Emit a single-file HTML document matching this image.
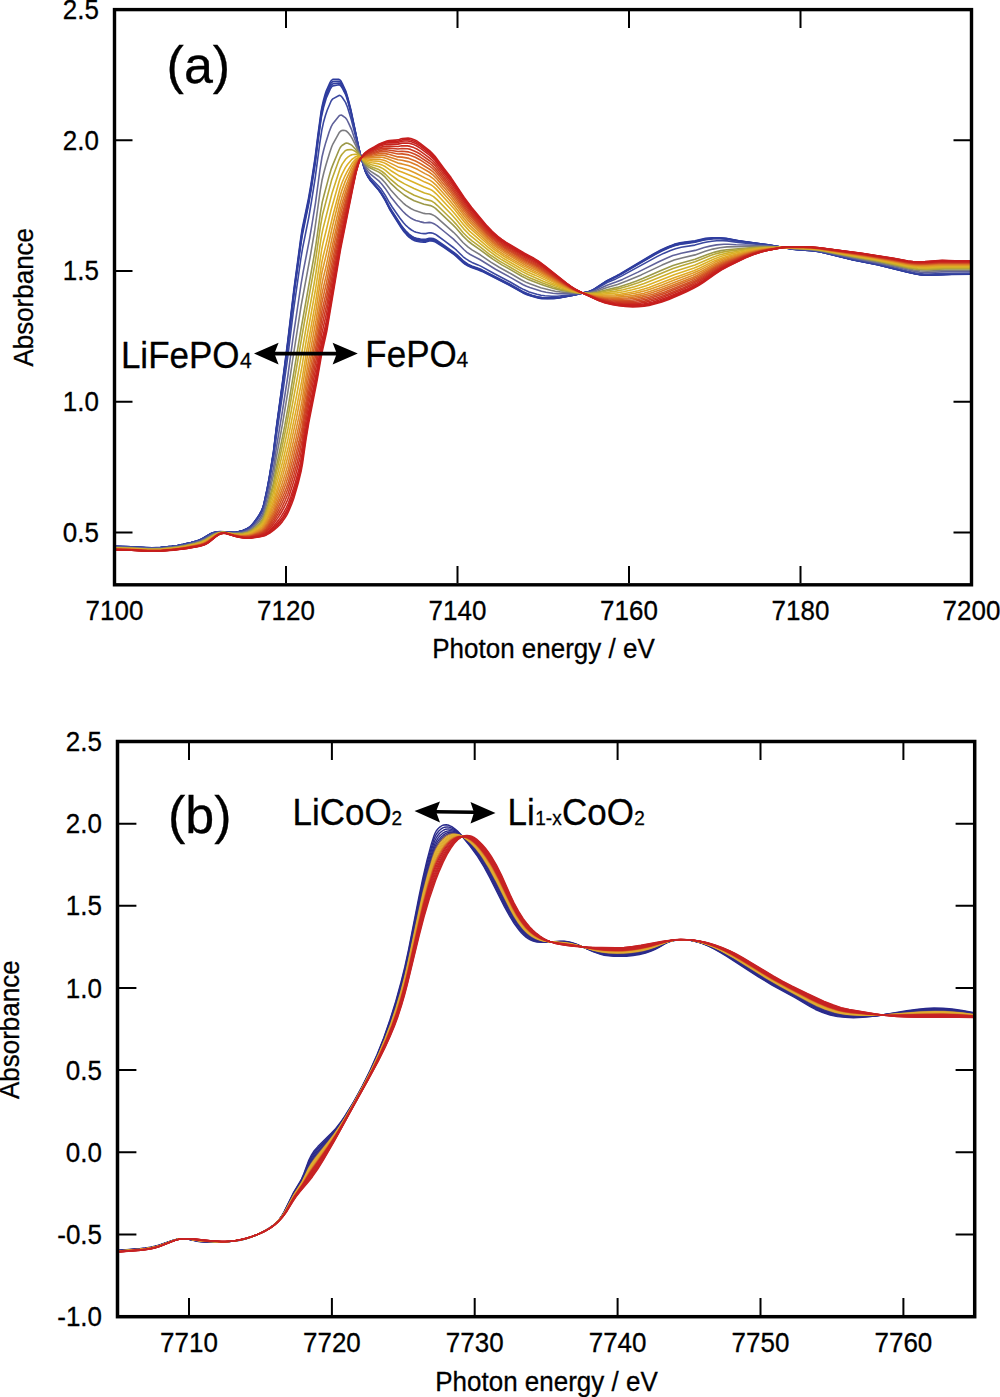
<!DOCTYPE html>
<html><head><meta charset="utf-8">
<style>
html,body{margin:0;padding:0;background:#fff;}
body{width:1000px;height:1397px;overflow:hidden;}
svg{display:block;}
text{font-family:"Liberation Sans",sans-serif;fill:#000;}
</style></head><body>
<svg width="1000" height="1397" viewBox="0 0 1000 1397">
<rect x="0" y="0" width="1000" height="1397" fill="#fff"/>
<g stroke="#000" fill="none">
<path stroke-width="2" d="M286 583V566 M457.5 583V566 M629 583V566 M800.5 583V566 M286 11V28 M457.5 11V28 M629 11V28 M800.5 11V28 M116 140.2H132.5 M116 271H132.5 M116 401.8H132.5 M116 532.5H132.5 M970 140.2H953.5 M970 271H953.5 M970 401.8H953.5 M970 532.5H953.5"/>
<path stroke-width="2" d="M189 1315V1298 M331.9 1315V1298 M474.7 1315V1298 M617.6 1315V1298 M760.5 1315V1298 M903.4 1315V1298 M189 743V760 M331.9 743V760 M474.7 743V760 M617.6 743V760 M760.5 743V760 M903.4 743V760 M119 823.7H136.4 M119 905.8H136.4 M119 988H136.4 M119 1070.1H136.4 M119 1152.3H136.4 M119 1234.4H136.4 M973 823.7H955.6 M973 905.8H955.6 M973 988H955.6 M973 1070.1H955.6 M973 1152.3H955.6 M973 1234.4H955.6"/>
</g>
<g fill="none" stroke-linejoin="round" stroke-linecap="round">
<path d="M114.5 546.3 131.0 546.8 146.0 547.6 152.0 547.8 160.5 547.4 171.8 546.3 177.5 545.5 183.2 544.4 191.0 542.5 196.8 540.9 199.8 539.8 202.2 538.7 210.5 533.7 212.8 532.8 215.0 532.2 217.5 531.7 220.2 531.6 233.2 532.4 236.0 532.1 238.8 531.6 242.8 530.4 246.0 529.1 248.8 527.6 251.0 525.8 253.5 523.1 257.0 518.2 259.5 514.4 261.5 510.6 262.8 507.6 263.8 504.3 267.2 488.5 269.2 477.7 273.5 451.4 276.5 426.4 282.5 382.0 288.0 339.2 293.8 290.2 300.8 237.9 302.2 228.7 308.5 198.3 311.0 184.2 315.2 156.8 318.0 134.4 321.2 110.9 322.0 106.8 323.5 100.2 325.0 94.8 326.2 91.1 330.2 82.2 331.5 80.3 332.8 79.4 339.0 79.4 340.0 79.9 341.0 81.1 342.2 83.3 346.0 91.7 348.0 98.5 350.8 109.5 357.8 143.1 360.0 153.0 363.8 166.7 365.2 171.2 366.5 174.1 368.2 177.3 370.5 180.7 378.5 190.1 381.2 193.8 385.0 200.1 389.5 209.0 391.8 212.9 401.2 227.8 404.0 231.7 406.5 234.6 409.0 237.1 411.8 239.2 414.0 240.4 416.5 241.3 420.5 242.0 424.0 242.3 425.8 242.1 429.2 241.0 431.0 240.9 433.2 241.2 435.5 242.0 444.2 247.6 454.2 254.7 456.8 256.8 463.0 262.6 465.2 264.3 467.8 265.8 471.5 267.6 478.5 269.9 482.0 271.4 509.0 285.0 523.0 292.9 527.0 294.7 531.0 296.1 537.8 297.9 541.8 298.6 547.2 298.8 553.8 298.6 560.0 297.8 574.8 295.0 588.8 291.4 591.8 290.3 594.5 288.9 606.5 280.9 615.8 276.2 620.0 273.9 654.0 253.6 660.8 250.0 668.0 246.7 674.0 244.4 680.0 242.9 685.0 242.0 695.0 240.9 705.5 238.4 712.5 237.7 719.2 237.7 726.0 238.2 739.0 240.7 768.2 244.9 792.2 249.0 798.2 249.7 811.8 250.7 818.2 251.5 824.0 252.8 853.0 259.9 877.8 264.8 906.5 272.0 914.8 273.8 920.0 274.8 924.2 275.2 929.0 275.3 952.0 274.4 971.5 274.3" stroke="#2e3c9e" stroke-width="1.6"/>
<path d="M114.5 546.4 131.0 546.8 146.0 547.6 152.0 547.8 160.5 547.5 171.8 546.4 177.5 545.5 183.2 544.4 191.0 542.6 196.8 541.0 199.8 539.9 202.2 538.7 210.8 533.7 213.0 532.8 215.2 532.2 217.8 531.8 220.5 531.7 233.2 532.4 236.0 532.2 238.8 531.6 242.8 530.5 246.0 529.2 248.8 527.7 250.8 526.2 253.2 523.5 256.5 519.1 259.5 514.6 261.5 510.8 262.8 507.9 263.8 504.6 267.2 488.9 269.2 478.3 273.5 452.2 276.5 427.4 282.5 383.4 288.0 340.9 293.8 292.3 300.8 240.2 302.5 229.7 308.5 200.6 311.0 186.4 315.2 159.1 318.0 136.8 321.2 113.3 322.0 109.2 323.5 102.7 324.8 98.1 326.2 93.5 330.2 84.5 331.5 82.6 332.8 81.6 339.0 81.2 340.0 81.7 341.0 82.8 342.2 84.8 346.0 93.0 348.0 99.6 350.8 110.4 357.8 143.3 360.0 153.1 363.8 166.6 365.2 171.0 366.5 173.9 368.2 177.1 370.5 180.4 378.5 189.6 381.2 193.3 385.0 199.5 389.5 208.3 391.8 212.2 401.2 226.9 404.0 230.7 406.5 233.6 409.0 236.1 411.8 238.2 414.0 239.4 416.5 240.3 420.5 241.0 424.0 241.3 425.8 241.1 429.2 240.1 431.0 240.0 433.2 240.3 435.5 241.2 444.2 246.9 454.2 254.0 456.8 256.1 463.0 261.9 465.5 263.8 468.0 265.4 471.5 267.0 478.2 269.3 481.8 270.8 509.2 284.7 523.0 292.5 527.0 294.3 531.2 295.8 537.8 297.5 541.8 298.2 547.5 298.5 554.0 298.3 560.2 297.6 574.8 294.9 588.8 291.5 591.8 290.4 594.5 289.0 606.5 281.1 615.8 276.5 620.2 274.1 654.5 253.8 661.0 250.4 668.2 247.1 674.0 244.9 680.0 243.4 685.0 242.6 695.0 241.4 705.8 238.8 713.0 238.1 719.8 238.1 726.2 238.5 738.5 240.8 768.0 244.9 792.5 249.1 798.5 249.7 811.8 250.6 818.2 251.5 824.0 252.7 852.8 259.7 877.5 264.7 906.8 271.9 914.8 273.7 920.0 274.6 924.2 275.1 928.8 275.2 951.8 274.2 971.5 274.2" stroke="#2f3d9e" stroke-width="1.6"/>
<path d="M114.5 546.4 131.0 546.8 146.0 547.7 152.0 547.8 160.5 547.5 171.8 546.4 177.5 545.6 183.5 544.4 191.2 542.6 197.0 540.9 200.0 539.8 202.5 538.7 210.8 533.7 213.0 532.8 215.2 532.2 217.8 531.8 220.5 531.7 233.5 532.4 236.2 532.2 239.0 531.6 243.0 530.5 246.2 529.2 249.0 527.7 251.0 526.1 253.5 523.4 257.0 518.6 259.5 514.8 261.5 511.1 262.8 508.2 263.8 504.9 267.2 489.4 269.2 478.8 273.5 452.9 276.5 428.4 282.5 384.8 288.0 342.6 294.0 292.5 300.8 242.6 302.2 233.4 308.5 202.8 311.2 187.2 315.2 161.5 318.0 139.2 321.2 115.8 322.0 111.7 323.5 105.1 324.8 100.5 326.2 95.9 330.2 86.8 331.5 84.8 332.8 83.8 339.0 83.0 340.0 83.4 341.0 84.4 342.2 86.4 346.0 94.3 348.0 100.8 351.0 112.3 357.8 143.5 360.0 153.2 363.8 166.5 365.2 170.8 366.5 173.6 368.2 176.8 370.5 180.1 378.5 189.2 381.2 192.8 385.0 198.9 389.5 207.6 391.8 211.4 401.2 226.0 404.0 229.8 406.5 232.7 409.0 235.1 411.8 237.1 414.0 238.4 416.5 239.3 420.5 240.1 424.0 240.4 425.8 240.2 429.2 239.2 431.0 239.1 433.2 239.5 435.5 240.3 444.2 246.1 454.2 253.3 456.8 255.4 463.0 261.2 465.5 263.1 468.0 264.7 471.5 266.4 478.2 268.8 481.8 270.3 509.5 284.4 523.0 292.1 527.0 293.9 531.5 295.4 538.0 297.2 542.0 297.9 548.0 298.2 554.0 298.1 560.2 297.4 574.8 294.9 589.0 291.5 591.8 290.4 594.5 289.1 606.5 281.3 615.8 276.8 620.2 274.4 654.8 254.2 661.2 250.8 668.5 247.5 674.2 245.4 680.2 243.9 685.0 243.1 695.0 241.8 705.8 239.2 713.2 238.4 720.0 238.4 726.2 238.8 738.2 241.0 767.8 244.9 792.8 249.1 798.5 249.7 811.8 250.6 818.2 251.5 824.0 252.7 852.8 259.7 877.5 264.6 906.8 271.8 914.8 273.6 920.0 274.5 924.2 274.9 928.8 275.0 951.8 274.1 971.5 274.0" stroke="#2f3d9f" stroke-width="1.6"/>
<path d="M114.5 546.4 131.0 546.9 146.0 547.7 152.0 547.9 160.5 547.5 171.8 546.4 177.5 545.6 183.5 544.5 191.2 542.6 197.0 541.0 200.0 539.9 202.5 538.8 210.8 533.8 213.0 532.9 215.5 532.2 218.0 531.8 220.8 531.7 233.5 532.5 236.2 532.2 239.2 531.6 243.0 530.6 246.2 529.3 249.0 527.8 251.0 526.2 253.8 523.2 257.5 518.1 259.8 514.6 261.8 510.8 263.0 507.7 264.0 504.3 267.2 489.9 269.2 479.4 273.5 453.7 276.5 429.4 282.5 386.2 288.0 344.4 294.0 294.6 300.8 244.9 302.2 235.8 308.5 205.1 311.2 189.4 315.2 163.8 318.0 141.6 321.2 118.2 323.5 107.6 326.2 98.3 330.2 89.1 331.5 87.0 332.8 85.9 339.0 84.8 340.0 85.1 341.0 86.1 342.2 88.0 345.0 93.3 346.0 95.6 348.0 101.9 351.0 113.2 358.0 144.9 360.2 154.2 363.8 166.4 365.2 170.6 366.5 173.4 368.2 176.5 370.5 179.7 378.5 188.7 381.2 192.3 385.2 198.7 389.2 206.5 391.8 210.7 401.2 225.1 404.0 228.9 406.5 231.7 409.0 234.1 411.8 236.1 414.0 237.4 416.5 238.3 420.5 239.1 424.0 239.4 425.8 239.2 429.2 238.3 431.0 238.2 433.2 238.6 435.5 239.5 444.2 245.3 454.2 252.6 456.8 254.7 463.0 260.6 465.5 262.5 468.0 264.1 471.8 265.9 478.2 268.2 481.5 269.6 509.5 284.0 523.0 291.7 527.2 293.6 532.0 295.2 538.2 296.9 542.0 297.6 548.2 297.9 554.2 297.8 560.2 297.2 574.8 294.8 589.0 291.5 591.5 290.6 594.0 289.4 597.5 287.4 606.8 281.4 615.8 277.1 621.0 274.3 655.0 254.6 661.8 251.1 669.0 247.8 674.5 245.8 680.5 244.3 685.0 243.6 695.0 242.3 703.0 240.2 706.0 239.6 713.8 238.8 720.5 238.7 726.5 239.1 739.2 241.3 770.0 245.3 793.0 249.1 798.5 249.6 811.5 250.5 818.0 251.4 824.0 252.6 852.8 259.6 877.5 264.5 906.8 271.7 914.8 273.5 920.0 274.4 924.2 274.8 928.8 274.9 951.8 274.0 971.5 273.9" stroke="#303e9f" stroke-width="1.6"/>
<path d="M114.5 546.6 131.0 547.1 146.0 547.9 152.0 548.1 160.5 547.7 172.2 546.6 178.0 545.8 184.0 544.6 191.8 542.8 197.2 541.3 200.2 540.2 202.8 539.0 211.2 534.0 213.8 533.0 216.2 532.3 218.8 531.9 221.5 531.8 234.0 532.7 236.8 532.4 240.0 531.8 243.8 530.8 246.8 529.6 249.2 528.3 251.2 526.7 254.0 523.8 257.8 518.9 260.0 515.6 261.8 512.4 263.0 509.5 264.0 506.2 267.5 491.5 269.2 482.7 273.8 456.9 276.5 435.5 282.5 394.6 287.8 356.6 293.2 312.7 300.8 259.0 302.5 248.6 308.8 217.3 311.2 203.1 315.2 177.8 319.8 143.1 321.8 130.1 323.5 122.3 325.5 115.2 327.2 110.2 330.8 101.7 331.8 100.0 332.8 98.9 339.0 95.5 339.8 95.4 340.5 95.7 341.5 96.5 342.5 97.7 345.5 102.4 347.5 107.3 351.2 119.3 360.0 153.7 363.5 164.9 366.0 171.1 368.0 174.5 370.5 177.8 378.5 186.0 381.5 189.6 385.2 195.2 389.5 202.8 392.0 206.7 400.0 218.2 403.5 222.7 406.2 225.7 408.8 228.0 411.5 230.0 414.0 231.4 416.2 232.2 420.5 233.2 424.0 233.6 425.8 233.6 429.2 232.8 431.0 232.9 433.0 233.3 435.2 234.2 437.2 235.5 444.2 240.6 454.0 248.0 456.5 250.2 463.2 256.8 466.0 258.9 468.8 260.7 472.0 262.4 478.0 264.9 481.2 266.4 494.5 273.8 510.2 282.0 519.2 287.2 523.8 289.6 529.2 292.0 536.8 294.3 541.0 295.3 544.8 295.8 551.8 296.3 557.2 296.2 575.5 294.4 585.8 292.5 590.0 291.5 592.8 290.5 595.5 289.2 607.2 282.5 615.8 278.9 621.8 275.9 657.0 256.6 663.5 253.4 670.5 250.4 675.5 248.7 681.2 247.3 694.8 245.1 703.2 242.8 707.0 242.0 712.0 241.2 716.8 240.8 722.8 240.7 727.2 240.9 738.0 242.4 767.2 245.3 779.5 246.9 794.2 249.1 811.0 250.3 817.5 251.1 823.8 252.3 854.2 259.4 879.2 264.3 909.0 271.5 915.2 272.8 920.0 273.6 924.0 274.0 928.5 274.0 951.0 273.2 971.5 273.1" stroke="#3b48a0" stroke-width="1.6"/>
<path d="M114.5 547.0 131.8 547.5 148.2 548.4 155.5 548.4 163.0 548.0 173.2 546.9 179.5 546.0 186.2 544.7 195.0 542.6 200.5 540.8 204.0 539.2 211.8 534.6 214.5 533.4 217.2 532.6 219.8 532.1 222.8 532.0 232.2 533.0 236.0 533.0 241.8 532.2 246.8 530.7 250.2 528.9 253.5 526.1 258.8 520.0 260.5 517.5 262.0 515.0 263.0 512.9 264.0 510.0 267.5 496.9 269.2 489.1 273.8 466.1 276.2 448.8 282.5 410.6 287.8 376.4 293.0 338.0 301.0 284.5 303.2 271.7 309.5 239.2 312.2 223.1 315.5 202.9 320.0 169.3 322.0 157.0 323.8 149.5 325.8 142.4 329.2 131.8 331.2 126.6 333.0 123.4 339.0 116.0 340.2 115.2 341.2 115.1 342.2 115.5 345.2 117.6 346.8 119.5 348.5 122.8 351.8 130.2 359.2 152.4 362.2 160.4 364.5 165.9 366.5 169.5 368.2 171.8 370.5 174.2 378.8 180.9 381.5 183.7 385.2 188.4 390.5 196.4 397.5 205.2 402.8 211.2 406.0 214.4 408.5 216.4 411.2 218.3 413.5 219.5 415.8 220.5 419.8 221.6 424.0 222.6 425.8 222.7 429.2 222.4 430.8 222.6 432.8 223.2 435.0 224.3 437.0 225.6 444.2 231.5 453.5 239.2 456.2 241.8 463.8 249.5 467.0 252.3 470.2 254.5 479.8 259.5 495.5 269.3 510.8 277.6 523.2 284.7 526.5 286.3 529.8 287.6 541.5 291.3 546.0 292.2 552.8 293.2 557.5 293.6 562.5 293.8 572.5 293.8 576.8 293.7 587.2 292.6 591.8 291.7 596.8 290.0 607.0 285.3 616.0 282.1 622.5 279.4 638.0 272.1 658.8 261.7 667.0 258.0 672.8 255.6 676.8 254.4 681.2 253.2 695.2 250.4 704.2 247.5 710.0 246.1 716.5 244.9 724.0 244.3 728.0 244.2 736.2 244.7 753.8 245.2 764.5 245.7 780.2 247.1 794.8 248.8 810.0 249.8 816.5 250.5 823.5 251.7 854.2 258.5 878.8 263.2 909.2 270.3 915.0 271.4 919.8 272.1 923.8 272.4 928.0 272.4 949.0 271.6 971.5 271.5" stroke="#60629a" stroke-width="1.6"/>
<path d="M114.5 547.4 131.8 547.9 148.0 548.7 155.2 548.8 162.8 548.3 173.0 547.3 179.2 546.5 186.0 545.2 195.0 543.1 200.8 541.3 204.5 539.6 212.8 534.7 215.8 533.4 218.2 532.7 220.8 532.3 223.5 532.2 232.5 533.3 236.5 533.4 242.5 532.7 247.2 531.4 250.8 529.7 254.2 526.8 259.5 521.1 261.2 518.8 262.5 516.7 263.5 514.5 264.5 511.6 268.0 499.5 274.0 472.4 276.2 458.3 282.5 423.8 288.0 391.2 292.8 359.0 301.2 305.3 310.0 257.9 314.5 231.5 320.2 190.8 322.0 180.3 323.8 172.8 326.0 164.7 329.8 152.3 331.8 146.5 333.0 143.8 339.2 132.6 340.5 131.2 341.8 130.5 343.0 130.3 345.0 130.5 346.2 130.9 348.0 132.6 350.8 136.1 352.0 138.2 355.5 145.1 363.5 162.5 365.2 165.6 366.8 167.6 368.5 169.5 370.8 171.4 378.8 176.5 381.8 179.1 385.2 182.8 390.8 190.0 397.8 197.7 403.0 202.8 406.0 205.3 410.8 208.5 415.0 210.6 424.0 213.4 425.8 213.7 429.2 213.8 430.8 214.1 432.8 214.9 435.0 216.1 437.5 218.1 453.5 232.3 456.5 235.3 463.0 242.5 468.2 247.2 472.0 249.9 480.2 254.8 491.2 262.4 499.2 267.3 511.0 273.8 521.2 279.8 526.8 282.6 530.5 284.1 540.8 287.7 550.8 290.3 555.2 291.2 560.2 291.9 574.8 293.2 587.8 292.9 591.0 292.5 594.0 291.9 598.2 290.7 607.0 287.4 617.5 284.4 627.2 280.8 641.2 274.9 662.0 265.1 669.8 261.8 674.2 260.1 681.8 258.0 695.0 254.9 705.2 251.3 712.8 249.1 719.8 247.7 727.0 246.9 736.0 246.8 753.2 246.3 765.2 246.4 780.8 247.2 794.5 248.6 809.2 249.4 815.5 250.0 823.0 251.2 854.5 257.8 878.2 262.2 909.5 269.2 915.0 270.2 919.8 270.8 927.5 271.1 946.5 270.3 971.5 270.2" stroke="#7c7c80" stroke-width="1.6"/>
<path d="M114.5 547.7 131.8 548.2 148.0 549.1 155.0 549.1 162.2 548.7 172.5 547.8 178.5 547.0 185.0 545.9 195.0 543.7 201.2 541.8 205.0 540.0 214.0 534.7 216.8 533.4 219.2 532.7 221.8 532.4 224.2 532.4 232.8 533.7 236.8 533.9 242.8 533.3 247.8 532.2 251.2 530.5 254.8 527.8 259.8 523.0 261.5 520.8 262.8 518.9 264.8 514.1 268.0 504.2 273.5 482.6 276.2 467.7 284.8 425.4 288.5 404.8 291.8 384.3 301.2 327.8 314.5 253.5 316.0 244.0 320.5 212.4 322.2 202.4 324.0 195.2 329.2 175.9 331.2 169.1 332.8 164.9 339.0 150.0 340.0 148.0 341.0 146.5 342.0 145.5 345.5 143.3 346.5 143.1 347.8 143.3 350.5 144.4 351.8 145.3 356.0 149.8 364.0 162.2 366.5 165.2 368.2 166.7 370.8 168.3 378.8 172.1 381.8 174.1 385.2 177.2 390.2 182.8 397.2 189.4 404.2 195.0 409.0 198.0 414.2 200.7 424.0 204.3 430.5 205.6 433.0 206.7 435.5 208.4 453.2 225.1 456.2 228.3 463.0 236.1 468.0 241.0 471.8 244.0 479.5 249.3 487.8 255.5 492.8 259.1 502.2 265.1 511.2 270.1 521.8 276.2 527.0 278.9 540.0 284.1 544.2 285.6 553.5 288.4 562.0 290.4 572.5 292.3 578.5 292.9 590.0 293.2 593.5 292.9 597.2 292.2 606.8 289.7 617.2 287.4 629.5 283.5 636.5 281.0 643.2 278.3 661.0 270.5 673.0 265.6 680.5 263.2 695.0 259.3 707.5 254.5 714.8 252.1 721.0 250.6 726.8 249.7 755.5 247.3 765.5 247.0 781.2 247.3 795.2 248.4 810.0 249.1 817.2 249.9 823.5 250.9 852.8 256.7 878.0 261.3 909.2 268.1 918.2 269.4 926.8 269.8 945.0 269.0 971.5 269.0" stroke="#9c9949" stroke-width="1.6"/>
<path d="M114.5 547.9 131.8 548.4 148.0 549.3 154.5 549.3 161.8 549.0 171.5 548.1 177.8 547.3 184.0 546.3 194.8 544.0 201.2 542.1 205.2 540.3 214.8 534.6 217.2 533.5 219.8 532.7 222.0 532.4 224.5 532.5 233.0 533.9 237.2 534.1 243.2 533.7 248.0 532.6 251.5 531.1 255.0 528.5 259.8 524.3 261.5 522.3 262.8 520.5 264.8 516.1 268.0 506.9 273.5 486.9 276.2 473.2 281.8 448.3 285.8 428.8 288.5 414.5 304.2 323.2 314.5 266.2 316.0 257.0 320.5 225.8 322.5 214.8 331.5 180.6 332.8 176.7 339.0 159.8 340.5 156.5 342.0 154.2 345.2 150.8 347.0 149.9 351.2 149.5 352.5 149.9 355.5 151.5 359.0 155.0 364.2 161.7 366.5 164.0 370.5 166.4 378.8 169.6 382.0 171.5 385.2 174.0 390.5 179.2 397.8 185.3 405.2 190.4 409.5 192.8 414.2 195.2 424.2 199.1 430.2 200.6 432.5 201.6 434.5 202.9 437.2 205.3 452.5 220.3 456.0 224.1 463.2 232.7 468.8 238.2 472.0 240.9 479.5 246.4 489.5 254.3 499.5 261.1 522.0 274.1 528.8 277.5 542.5 283.1 552.8 286.8 561.8 289.4 573.0 292.0 577.5 292.6 585.0 293.2 589.5 293.5 593.0 293.4 598.2 292.7 606.5 291.0 617.8 288.9 628.2 286.0 638.2 282.8 646.5 279.6 673.0 268.5 680.0 266.2 695.0 261.8 710.5 255.6 716.5 253.6 722.5 252.1 727.8 251.1 748.8 248.6 760.0 247.6 767.5 247.4 782.2 247.4 795.2 248.2 809.5 248.9 817.2 249.6 823.2 250.6 852.0 256.2 877.8 260.8 909.2 267.5 917.8 268.7 926.5 269.1 944.2 268.3 971.5 268.2" stroke="#b8a836" stroke-width="1.6"/>
<path d="M114.5 548.1 131.8 548.6 148.0 549.5 154.2 549.6 161.2 549.2 170.8 548.4 177.0 547.7 183.2 546.7 195.0 544.3 201.8 542.4 206.0 540.3 215.5 534.5 218.0 533.4 220.2 532.8 222.5 532.5 224.8 532.6 233.0 534.1 237.5 534.5 243.5 534.2 248.2 533.2 251.8 531.7 255.8 529.0 260.2 525.3 262.0 523.4 263.0 522.0 264.8 518.4 268.0 510.1 273.8 491.1 276.2 479.7 283.0 451.6 288.0 428.5 299.2 367.6 306.0 328.3 314.5 281.3 316.0 272.3 320.8 240.1 321.8 234.3 323.0 228.6 332.0 193.3 340.0 168.7 342.2 164.1 345.8 159.0 347.8 157.2 350.8 155.2 351.8 154.7 355.2 154.3 356.2 154.4 357.5 155.0 360.0 156.6 364.8 161.2 367.2 162.9 371.5 164.7 379.2 166.7 383.0 168.6 385.5 170.3 390.5 174.6 397.8 180.0 404.5 183.9 414.0 188.5 424.5 193.0 430.0 194.6 433.5 196.6 437.0 199.6 451.8 214.7 455.8 219.2 463.5 228.6 469.5 234.8 490.0 251.6 496.0 256.0 501.8 259.8 522.2 271.6 528.5 274.8 543.8 281.4 554.8 285.8 567.2 289.9 572.2 291.3 576.0 292.1 588.5 293.7 592.0 294.0 595.2 293.9 599.2 293.5 606.8 292.4 614.8 291.4 623.0 289.8 634.5 286.8 644.2 283.6 672.8 272.1 679.0 269.9 695.0 264.9 712.2 257.5 719.2 255.0 727.0 253.1 745.2 250.0 754.5 248.7 763.5 247.9 783.5 247.4 808.5 248.6 817.2 249.4 822.8 250.2 840.8 253.7 875.8 259.8 889.5 262.5 908.2 266.5 917.0 267.8 926.0 268.2 943.8 267.3 971.5 267.3" stroke="#cfb02b" stroke-width="1.6"/>
<path d="M114.5 548.3 131.8 548.8 147.8 549.7 154.0 549.8 160.8 549.5 170.0 548.7 176.5 548.0 182.8 547.1 195.0 544.7 199.0 543.7 202.0 542.7 206.2 540.7 216.0 534.6 218.2 533.5 220.5 532.9 222.8 532.6 225.0 532.7 233.2 534.3 238.0 534.8 244.0 534.6 248.8 533.7 252.5 532.1 257.8 528.7 261.0 526.0 263.2 523.3 265.2 519.4 268.2 512.4 273.8 495.9 276.2 485.7 282.8 461.2 288.0 438.9 296.8 394.5 302.0 366.2 306.5 339.1 315.5 289.5 321.8 249.0 323.0 243.3 326.2 230.5 331.2 209.5 339.2 181.3 340.5 177.6 342.0 174.1 345.5 167.4 347.5 164.5 351.8 159.5 354.8 157.3 355.8 156.7 358.0 156.6 360.0 157.1 365.2 160.5 368.5 161.9 372.0 162.8 379.0 163.9 382.0 164.9 385.5 166.8 391.0 170.7 398.5 175.4 424.2 187.1 429.2 188.9 431.8 190.2 434.0 191.8 436.2 193.8 450.8 209.2 455.2 214.3 463.8 224.9 469.5 231.1 488.2 247.4 492.8 251.0 497.5 254.4 504.2 258.8 522.2 269.2 527.5 272.0 535.5 275.4 551.5 282.9 559.2 286.1 571.8 290.7 575.5 291.7 579.5 292.5 591.0 294.3 594.8 294.5 598.8 294.5 616.8 292.9 623.5 291.7 632.2 289.8 639.0 288.0 646.2 285.7 674.2 274.7 694.2 268.0 699.0 266.0 713.5 259.2 721.5 256.3 727.8 254.6 747.8 250.5 757.2 249.0 766.0 248.2 779.5 247.5 784.2 247.4 807.8 248.4 817.2 249.2 823.0 250.0 838.5 252.9 875.0 259.1 890.8 262.2 908.2 265.9 916.5 267.0 925.5 267.4 943.5 266.5 971.5 266.5" stroke="#dcb127" stroke-width="1.6"/>
<path d="M114.5 548.5 131.8 549.0 147.8 549.9 154.0 550.0 160.8 549.7 169.8 549.0 176.2 548.3 182.5 547.4 195.2 544.9 199.2 543.9 202.2 543.0 206.8 540.8 216.2 534.7 218.8 533.5 221.0 532.9 223.0 532.7 225.2 532.8 233.2 534.5 238.2 535.1 244.5 535.0 249.2 534.1 253.2 532.5 258.8 529.1 262.0 526.5 263.8 524.2 266.5 519.0 268.5 514.6 273.8 500.4 283.0 468.0 288.5 446.2 296.5 407.9 301.8 380.6 307.0 348.8 315.5 302.3 321.8 262.5 323.0 256.8 326.2 243.9 332.8 215.7 340.0 188.5 342.0 182.8 345.0 175.8 347.0 171.9 352.2 163.1 355.8 159.0 358.2 157.7 359.5 157.4 360.5 157.5 365.5 159.6 368.5 160.4 372.5 160.9 379.0 161.3 383.0 162.4 386.0 163.8 391.0 166.8 398.2 170.7 401.8 171.9 410.5 175.4 417.2 178.3 424.8 182.1 429.0 183.8 430.8 184.7 433.5 186.6 436.0 188.9 450.0 204.2 454.8 209.8 464.0 221.6 470.0 228.2 488.5 245.0 493.5 249.1 498.8 252.9 504.2 256.5 524.8 268.4 536.0 273.6 556.8 283.9 566.2 288.0 573.8 290.9 578.8 292.2 589.2 294.4 594.0 295.0 598.5 295.3 614.8 294.7 619.8 294.2 625.8 293.2 632.5 292.0 638.0 290.7 644.0 289.0 649.0 287.4 674.8 277.4 693.8 270.7 699.5 268.2 714.2 260.9 718.5 259.2 723.2 257.5 728.5 256.0 749.5 251.0 759.5 249.3 768.0 248.3 780.0 247.5 785.0 247.4 807.2 248.1 817.2 248.9 823.0 249.8 837.5 252.4 874.0 258.5 891.8 261.8 908.2 265.2 916.0 266.3 925.0 266.6 943.0 265.7 971.5 265.8" stroke="#e0a926" stroke-width="1.6"/>
<path d="M114.5 548.7 131.8 549.2 147.8 550.0 154.0 550.1 160.5 549.9 169.2 549.2 176.0 548.5 182.2 547.6 195.2 545.2 199.2 544.2 202.5 543.2 205.0 542.1 207.2 540.8 216.5 534.7 219.0 533.6 221.2 532.9 223.2 532.7 225.2 532.8 233.5 534.7 238.8 535.3 244.8 535.3 249.5 534.6 253.5 533.0 259.2 529.8 262.2 527.4 264.2 524.9 266.8 520.5 268.5 516.9 273.8 504.0 283.0 474.4 286.0 463.8 288.8 453.1 296.5 417.8 301.8 391.2 307.2 357.6 315.8 311.4 320.5 280.9 322.0 272.3 326.2 254.8 332.2 227.5 339.2 199.0 341.5 191.4 345.2 181.4 351.2 168.4 352.8 165.5 355.8 160.8 357.8 158.9 359.5 157.9 361.2 157.7 366.0 158.8 370.5 159.3 379.5 159.2 383.8 160.2 386.2 161.1 398.0 166.9 401.8 167.9 408.5 170.1 415.8 173.2 425.0 177.9 430.2 180.4 433.0 182.3 435.8 184.8 449.8 200.5 454.5 206.2 464.0 218.6 470.2 225.7 488.2 242.7 493.2 246.9 498.5 250.8 504.2 254.6 524.5 266.4 536.5 272.1 553.0 280.9 563.2 286.0 570.8 289.4 575.8 291.2 584.2 293.4 592.0 295.1 596.2 295.7 600.2 296.0 616.0 295.9 621.8 295.4 629.2 294.3 635.0 293.3 640.2 292.1 646.2 290.5 652.2 288.4 661.8 284.9 675.0 279.7 693.2 273.1 700.2 269.9 715.2 262.1 720.2 260.0 725.8 258.1 744.5 252.8 754.5 250.5 764.5 249.0 779.5 247.6 786.0 247.4 804.8 247.9 812.5 248.3 819.0 249.0 873.8 258.0 892.8 261.5 908.0 264.7 915.0 265.6 924.5 266.0 943.0 265.0 971.5 265.2" stroke="#df9b27" stroke-width="1.6"/>
<path d="M114.5 548.8 131.8 549.3 147.8 550.2 154.0 550.3 161.0 550.0 170.2 549.3 176.8 548.6 183.0 547.7 196.0 545.3 200.0 544.3 203.0 543.3 207.5 541.0 216.8 534.8 219.2 533.6 221.5 533.0 223.5 532.8 225.5 532.9 233.8 534.9 239.2 535.6 245.5 535.7 248.0 535.4 250.2 534.9 254.5 533.2 260.5 530.0 263.0 528.0 265.2 524.9 268.8 518.8 273.5 508.2 281.5 485.4 285.0 474.5 287.8 464.9 293.5 441.0 298.8 417.2 301.8 401.9 307.8 364.9 316.0 320.5 321.8 284.6 323.0 278.8 326.0 266.8 332.2 237.4 340.0 204.0 342.0 197.1 345.5 186.8 352.2 169.8 356.0 162.2 358.5 159.2 360.2 158.0 362.2 157.7 366.0 157.9 371.5 157.8 379.2 157.1 382.0 157.3 384.8 157.9 386.8 158.6 398.0 163.1 402.0 163.9 408.2 165.6 411.0 166.6 417.8 169.6 425.0 173.6 429.5 175.9 433.5 178.8 437.0 182.3 451.8 199.5 464.0 215.6 470.8 223.4 488.2 240.5 493.2 244.9 498.5 248.9 504.5 252.9 524.0 264.3 527.5 266.2 536.8 270.5 555.0 280.9 568.0 287.7 573.2 290.1 577.8 291.7 588.5 294.6 595.0 296.0 599.0 296.6 603.2 296.9 612.8 297.2 618.2 297.1 625.0 296.5 632.8 295.6 638.0 294.6 644.0 293.2 649.8 291.5 658.5 288.5 693.0 275.3 701.0 271.5 715.8 263.5 721.2 261.1 726.8 259.0 744.8 253.5 754.8 251.0 764.8 249.2 780.5 247.6 786.8 247.3 804.5 247.7 812.2 248.1 819.0 248.8 872.5 257.4 892.8 261.1 908.0 264.2 914.5 265.0 924.0 265.4 929.8 265.2 942.8 264.4 971.5 264.6" stroke="#de8d28" stroke-width="1.6"/>
<path d="M114.5 549.0 131.8 549.5 148.0 550.4 154.5 550.4 162.0 550.1 172.5 549.2 178.8 548.5 185.5 547.5 197.0 545.3 200.5 544.4 203.5 543.4 205.8 542.4 208.0 541.0 217.0 534.8 219.2 533.7 221.5 533.0 223.5 532.8 225.5 533.0 234.0 535.1 240.0 535.9 246.2 536.0 248.8 535.7 251.0 535.1 253.8 534.2 257.8 532.4 262.0 530.0 264.2 527.8 267.2 523.4 269.2 520.0 273.8 510.8 280.5 493.4 283.8 484.4 286.2 476.8 288.5 469.2 295.5 440.9 299.5 422.9 302.0 410.0 307.2 376.8 315.8 331.3 321.8 294.4 326.2 275.4 332.5 244.9 340.5 208.9 342.5 201.8 346.0 190.6 351.8 174.1 354.5 167.1 356.0 163.7 358.2 160.2 359.8 158.5 361.2 157.7 363.2 157.3 373.0 156.3 379.2 155.2 382.2 155.3 385.2 155.7 398.0 159.8 402.0 160.3 408.0 161.6 410.8 162.5 417.8 165.6 429.0 172.0 433.2 175.1 437.0 179.0 443.2 186.6 451.5 196.2 464.0 212.9 471.0 221.3 488.0 238.4 493.0 242.9 498.2 247.0 504.5 251.2 523.0 262.1 527.2 264.4 537.2 269.3 557.2 281.2 570.0 288.2 574.5 290.3 579.2 292.0 590.5 295.3 597.5 296.9 602.5 297.6 611.2 298.3 615.8 298.4 620.5 298.3 628.0 297.7 634.8 296.9 640.2 295.9 646.2 294.5 652.5 292.6 661.2 289.5 692.5 277.4 696.8 275.5 701.5 273.0 716.2 264.7 722.0 262.1 727.8 259.8 745.0 254.1 755.2 251.3 765.0 249.5 781.2 247.5 787.5 247.3 804.2 247.6 812.0 248.0 819.0 248.7 870.5 256.7 892.8 260.7 908.0 263.7 914.2 264.5 919.5 264.8 925.8 264.8 943.2 263.8 971.5 264.0" stroke="#db7c27" stroke-width="1.6"/>
<path d="M114.5 549.1 131.8 549.6 148.0 550.5 154.8 550.5 162.2 550.2 172.8 549.3 179.2 548.6 186.0 547.6 197.5 545.4 201.0 544.5 203.8 543.5 206.0 542.5 208.2 541.2 217.0 534.9 219.5 533.7 221.8 533.0 223.5 532.9 225.5 533.0 234.2 535.3 240.8 536.2 246.8 536.3 249.2 535.9 251.8 535.3 258.5 532.8 262.5 530.6 264.8 528.3 268.2 523.5 274.0 513.1 280.0 499.1 283.0 491.5 285.8 484.0 288.0 477.0 293.0 458.5 298.5 435.5 301.8 419.6 307.5 383.3 316.0 338.1 321.8 303.0 326.5 282.7 332.2 253.8 340.0 216.9 342.0 209.0 345.8 196.0 352.0 176.1 355.0 167.5 356.5 164.0 359.0 159.8 360.5 158.2 362.8 157.1 367.0 156.1 374.0 154.8 379.0 153.6 381.8 153.4 385.0 153.6 387.8 154.1 398.0 156.9 402.0 157.1 409.0 158.4 415.5 161.0 420.2 163.5 430.0 169.5 432.8 171.6 435.2 174.0 451.5 193.6 463.8 210.3 470.2 218.3 487.8 236.5 493.0 241.3 498.5 245.7 504.5 249.8 521.8 260.0 526.8 262.8 534.0 266.3 537.5 268.1 561.0 282.7 571.2 288.5 576.2 290.8 582.8 293.1 592.8 296.2 599.5 297.8 604.8 298.5 612.5 299.3 617.2 299.4 622.5 299.3 630.2 298.8 636.0 298.2 642.0 297.1 647.8 295.8 655.5 293.4 663.2 290.6 692.2 279.2 696.8 277.1 701.8 274.5 716.8 265.7 722.8 262.8 728.8 260.5 745.2 254.6 755.5 251.6 765.2 249.7 781.8 247.5 788.0 247.2 804.2 247.5 812.2 247.9 819.2 248.6 868.5 256.1 892.5 260.2 908.0 263.3 914.0 264.1 919.2 264.4 925.5 264.3 943.0 263.3 971.5 263.6" stroke="#d76926" stroke-width="1.6"/>
<path d="M114.5 549.2 131.8 549.7 148.0 550.6 154.8 550.6 162.2 550.3 172.8 549.5 179.2 548.7 186.0 547.7 197.8 545.5 201.2 544.6 204.0 543.7 206.2 542.6 208.5 541.3 217.2 534.9 219.8 533.7 222.0 533.1 223.8 532.9 225.8 533.1 234.2 535.4 241.2 536.5 247.2 536.6 250.0 536.2 252.5 535.6 259.0 533.3 262.8 531.4 264.0 530.3 265.8 528.5 269.2 523.9 274.2 515.5 280.2 502.8 284.2 493.4 286.5 487.5 288.5 481.5 294.2 460.9 299.0 441.3 301.8 427.9 307.8 389.8 316.2 345.0 321.8 311.6 326.5 291.2 332.5 260.2 340.5 220.7 346.0 199.7 352.2 177.9 355.8 167.1 358.2 161.6 360.0 158.8 362.2 157.1 365.0 155.9 374.2 153.4 379.2 151.9 382.2 151.6 385.5 151.6 388.5 152.0 398.0 154.0 402.0 153.9 408.8 154.9 411.2 155.7 415.2 157.3 419.8 159.7 430.0 166.4 432.5 168.4 435.0 170.8 451.2 190.7 463.8 208.0 470.5 216.4 487.5 234.6 492.8 239.5 498.2 244.0 504.5 248.3 523.0 259.3 527.2 261.6 534.8 265.3 538.2 267.3 562.8 283.1 572.0 288.6 577.8 291.3 588.5 295.1 596.0 297.5 601.8 298.8 608.5 299.8 614.0 300.3 619.5 300.5 625.8 300.4 632.5 300.0 637.8 299.5 644.0 298.3 649.5 297.0 657.2 294.6 664.5 292.0 691.0 281.4 696.2 278.9 701.2 276.3 706.0 273.5 714.2 268.3 720.0 265.3 727.0 262.1 742.8 256.1 751.8 253.1 760.8 250.8 767.2 249.6 782.0 247.5 788.5 247.2 803.8 247.3 811.8 247.7 819.2 248.4 866.5 255.5 892.5 259.9 908.0 262.9 913.8 263.7 919.0 263.9 925.5 263.9 943.0 262.8 955.2 263.1 971.5 263.1" stroke="#d25625" stroke-width="1.6"/>
<path d="M114.5 549.3 131.8 549.8 147.8 550.7 154.0 550.8 161.0 550.5 170.5 549.8 183.5 548.3 196.8 545.9 200.8 545.0 203.8 544.0 206.2 542.9 208.5 541.5 215.5 536.2 217.8 534.7 220.2 533.6 222.8 533.0 224.2 533.0 226.0 533.2 233.8 535.4 239.8 536.5 245.8 536.9 250.5 536.4 254.0 535.6 259.0 534.0 261.8 532.8 263.5 531.7 265.8 529.7 268.2 526.8 273.5 519.3 278.8 509.5 281.5 504.0 285.0 496.2 287.5 489.7 289.5 483.6 293.8 469.1 299.2 447.1 302.0 433.6 304.5 416.6 307.8 396.6 316.2 352.1 321.8 318.9 326.5 298.5 340.0 228.1 342.0 219.4 345.2 206.5 353.0 177.4 355.8 168.3 357.8 163.3 359.5 159.8 361.2 157.7 364.0 155.8 368.2 154.1 374.0 152.4 379.5 150.4 383.2 149.9 386.5 149.8 398.0 151.5 402.0 151.2 408.5 151.9 411.2 152.7 415.0 154.2 419.8 156.8 429.8 163.5 432.5 165.7 435.0 168.2 451.2 188.4 464.0 206.3 470.8 214.9 487.5 233.1 492.8 238.1 498.2 242.7 504.8 247.3 523.0 258.1 527.2 260.5 534.5 264.0 538.2 266.2 563.8 283.3 572.8 288.8 578.8 291.5 592.2 296.6 598.2 298.5 604.2 299.8 611.0 300.8 616.2 301.3 622.5 301.5 630.2 301.4 635.8 301.0 641.0 300.3 646.5 299.2 651.8 297.8 658.8 295.6 666.0 293.0 683.2 286.1 691.2 282.7 696.5 280.2 701.8 277.3 714.2 269.4 720.2 266.1 727.2 262.9 743.2 256.4 752.0 253.4 761.0 251.0 767.2 249.7 782.2 247.5 788.8 247.1 803.5 247.2 811.8 247.6 819.2 248.3 865.0 255.0 892.8 259.6 908.0 262.6 913.8 263.3 919.0 263.5 925.5 263.4 942.8 262.4 955.2 262.7 971.5 262.7" stroke="#ce4624" stroke-width="1.6"/>
<path d="M114.5 549.4 131.8 549.9 147.8 550.8 154.0 550.9 161.2 550.6 171.0 549.8 184.2 548.3 197.2 546.0 201.0 545.1 204.0 544.1 206.2 543.1 208.5 541.7 215.5 536.3 217.8 534.8 220.2 533.6 222.8 533.0 224.2 533.0 226.0 533.2 234.0 535.6 240.0 536.7 246.0 537.2 251.0 536.7 259.2 534.5 262.0 533.5 263.8 532.5 266.2 530.4 268.5 528.1 274.0 520.9 278.8 513.0 281.8 507.6 285.2 500.3 287.8 494.2 290.0 487.5 294.0 474.4 296.5 465.2 299.5 453.0 302.0 440.7 304.5 423.6 308.2 400.5 316.5 357.8 321.5 327.6 326.8 304.5 339.8 234.5 341.8 225.2 345.2 210.6 352.2 182.3 355.0 172.0 356.5 167.3 358.8 161.6 360.0 159.2 361.8 157.2 364.0 155.4 366.8 153.9 374.5 151.0 379.0 149.1 382.8 148.3 386.5 148.0 389.5 148.1 398.0 149.0 401.8 148.5 407.5 148.8 410.5 149.4 414.2 150.9 417.0 152.2 420.5 154.3 430.0 161.0 432.5 163.1 435.0 165.6 443.8 176.9 451.2 186.2 463.8 204.0 470.8 213.1 487.5 231.7 492.8 236.8 498.0 241.2 504.8 246.0 522.5 256.6 527.0 259.1 534.5 262.9 538.2 265.1 544.5 269.2 564.5 283.3 573.2 288.8 579.2 291.7 594.5 297.6 600.0 299.4 606.2 300.8 612.5 301.8 618.2 302.4 625.2 302.6 633.2 302.4 638.5 302.0 644.5 301.1 649.0 300.1 654.8 298.4 661.0 296.4 667.8 293.9 683.2 287.7 691.8 283.9 697.0 281.3 702.2 278.4 714.5 270.4 720.5 267.0 727.5 263.6 744.0 256.6 752.5 253.6 761.2 251.1 767.5 249.9 782.5 247.4 789.0 247.1 803.2 247.1 811.5 247.5 819.2 248.2 864.0 254.5 893.0 259.3 908.0 262.2 913.5 262.9 918.8 263.1 925.2 263.0 942.8 262.0 955.2 262.3 971.5 262.3" stroke="#cc3a22" stroke-width="1.6"/>
<path d="M114.5 549.5 131.8 550.0 147.8 550.9 154.2 551.0 161.5 550.7 171.8 549.9 185.0 548.3 197.8 546.1 201.5 545.2 204.2 544.2 206.5 543.2 208.8 541.8 215.5 536.5 217.8 534.9 220.5 533.6 223.0 533.1 226.0 533.3 234.2 535.8 241.2 537.1 247.2 537.4 250.0 537.2 252.8 536.8 258.2 535.5 261.2 534.6 263.5 533.6 265.5 532.2 269.0 529.1 273.0 524.6 278.5 516.9 281.5 512.0 284.5 506.5 286.8 501.7 288.8 496.7 292.2 486.3 294.5 479.0 297.2 468.9 300.0 457.7 302.0 447.8 305.5 424.1 309.0 403.0 316.8 363.5 321.8 333.6 325.5 317.8 327.0 310.4 340.0 238.5 345.2 214.6 352.5 183.5 355.5 171.6 357.5 165.4 359.2 160.9 360.5 158.7 362.5 156.3 364.5 154.7 367.2 153.0 379.5 147.6 383.5 146.6 387.0 146.1 390.0 146.1 398.0 146.5 401.8 145.8 407.5 145.9 410.2 146.4 413.8 147.6 416.8 149.0 420.2 151.2 429.8 158.1 432.5 160.5 435.0 163.1 443.8 174.5 451.2 183.9 464.0 202.3 471.0 211.6 487.2 230.0 492.5 235.2 498.0 239.9 502.2 243.1 506.8 246.0 524.8 256.7 534.2 261.6 538.2 263.9 544.8 268.4 565.2 283.4 570.2 286.8 574.0 289.0 580.0 291.9 596.2 298.6 602.0 300.4 609.0 302.0 614.5 302.9 620.8 303.5 628.8 303.7 635.2 303.6 640.5 303.1 646.2 302.1 651.0 301.0 657.2 299.2 663.5 297.1 670.0 294.6 683.5 289.1 692.0 285.2 697.2 282.6 702.5 279.5 714.5 271.5 720.8 267.8 727.5 264.5 744.2 257.0 752.8 253.9 761.5 251.3 767.8 250.0 782.8 247.4 789.5 247.0 803.0 247.0 811.2 247.3 819.2 248.1 863.0 254.1 893.2 259.1 908.0 261.9 913.2 262.5 918.5 262.7 925.2 262.6 942.5 261.5 955.2 261.9 971.5 261.9" stroke="#ca2e20" stroke-width="1.6"/>
<path d="M114.5 549.6 131.8 550.1 148.0 551.0 154.5 551.1 162.0 550.7 172.5 550.0 185.8 548.3 198.0 546.2 201.8 545.3 204.5 544.3 206.8 543.3 209.0 541.9 215.8 536.4 218.0 534.9 220.5 533.7 223.0 533.1 226.0 533.3 235.0 536.1 238.8 536.9 242.8 537.5 248.5 537.7 251.5 537.4 255.0 536.8 259.8 535.7 262.8 534.8 265.0 533.7 267.5 532.0 269.8 530.1 274.0 525.8 278.2 520.6 281.2 516.4 284.0 511.9 286.5 507.3 288.5 502.7 290.8 496.6 293.2 489.3 295.5 481.9 298.5 470.8 300.5 462.5 302.2 453.4 305.0 434.2 308.8 411.2 317.0 369.3 321.8 341.0 325.5 325.1 326.8 318.9 340.2 242.3 342.5 231.3 352.2 186.8 355.8 171.9 357.8 165.4 359.5 160.7 360.8 158.4 362.8 155.9 365.0 153.8 367.8 151.9 380.0 145.9 384.2 144.7 387.5 144.1 390.2 144.0 398.0 144.1 402.0 143.1 407.5 143.0 410.2 143.4 413.8 144.6 416.8 146.0 420.2 148.2 429.8 155.4 432.5 157.9 435.0 160.5 443.8 172.2 451.2 181.7 464.0 200.3 471.2 210.0 487.2 228.6 492.5 233.9 497.8 238.5 502.0 241.7 506.5 244.6 524.8 255.5 534.2 260.4 538.2 262.8 545.0 267.6 565.8 283.3 570.5 286.6 574.2 289.0 580.2 292.0 597.2 299.3 603.5 301.4 610.8 303.1 616.2 304.0 622.5 304.6 630.5 304.9 636.5 304.8 642.0 304.2 647.5 303.3 653.0 302.0 659.2 300.1 667.2 297.3 678.2 292.8 685.8 289.6 692.5 286.4 697.8 283.7 703.0 280.6 714.5 272.6 720.8 268.8 727.8 265.2 744.8 257.3 753.2 254.1 761.8 251.5 768.0 250.1 783.0 247.4 789.8 247.0 803.0 246.9 811.2 247.2 819.2 247.9 862.2 253.8 893.5 258.8 908.0 261.5 913.2 262.2 918.2 262.4 925.2 262.2 942.5 261.1 955.0 261.4 971.5 261.5" stroke="#c8221e" stroke-width="1.6"/>
<path d="M114.5 549.7 131.8 550.2 148.0 551.1 154.5 551.1 162.0 550.8 172.8 550.0 186.2 548.4 198.2 546.3 202.0 545.3 204.8 544.4 206.8 543.4 209.0 542.0 215.8 536.5 218.0 535.0 220.5 533.7 223.0 533.1 226.0 533.4 235.5 536.3 239.8 537.2 244.0 537.7 247.0 537.9 250.0 537.8 258.2 536.5 261.8 535.7 264.0 534.9 266.8 533.4 269.5 531.4 273.8 527.7 277.0 524.3 280.0 520.7 282.8 516.9 285.8 512.0 287.5 508.5 289.5 503.7 292.2 496.3 296.5 482.8 299.0 473.5 300.8 466.0 302.2 458.1 305.0 438.8 308.8 415.7 317.0 374.1 321.8 345.9 325.5 330.0 326.8 323.7 340.2 245.7 352.5 187.1 356.0 171.8 358.2 164.3 359.8 160.3 361.2 157.7 363.5 154.9 365.8 152.8 368.5 151.0 374.5 148.0 378.8 145.5 382.0 144.3 385.2 143.3 388.2 142.8 397.8 142.4 402.0 141.3 405.0 141.0 407.8 141.0 410.5 141.5 414.0 142.7 416.8 144.0 420.2 146.2 429.8 153.6 432.5 156.1 435.0 158.8 443.8 170.6 451.0 179.9 464.0 199.0 471.2 208.8 487.2 227.6 492.5 233.0 497.8 237.6 502.0 240.9 506.5 243.8 524.8 254.7 534.0 259.5 538.2 262.1 545.0 267.0 566.2 283.4 570.8 286.6 574.5 289.0 580.5 292.0 597.8 299.8 604.2 302.0 611.5 303.8 617.0 304.7 623.5 305.3 631.5 305.7 637.2 305.6 643.0 305.0 648.0 304.2 653.8 302.8 660.0 300.9 667.8 298.2 678.5 293.8 685.8 290.6 692.5 287.4 698.0 284.4 703.0 281.4 714.8 273.2 721.0 269.3 728.0 265.6 745.0 257.5 753.2 254.3 761.8 251.7 768.0 250.2 783.2 247.4 790.2 246.9 802.8 246.8 811.0 247.1 819.2 247.9 862.0 253.6 893.8 258.6 908.0 261.3 913.0 261.9 918.0 262.1 925.0 262.0 942.2 260.8 955.2 261.2 971.5 261.2" stroke="#c7201e" stroke-width="1.6"/>
<path d="M114.5 549.8 131.8 550.2 148.0 551.1 154.5 551.2 162.0 550.9 173.0 550.0 186.8 548.4 198.5 546.3 202.0 545.5 204.8 544.5 207.0 543.4 209.2 541.9 215.8 536.6 218.0 535.0 220.5 533.8 223.0 533.2 224.5 533.1 226.0 533.4 235.5 536.3 240.0 537.3 244.2 537.9 247.2 538.1 250.2 537.9 259.2 536.6 262.8 535.8 265.2 534.9 268.2 533.2 271.5 530.8 275.2 527.6 278.2 524.6 281.2 521.0 284.0 517.1 286.2 513.5 288.0 510.0 290.2 504.6 293.0 497.2 297.2 483.4 299.5 474.9 301.0 468.4 302.2 461.7 305.0 442.2 308.8 419.1 317.2 376.3 321.8 349.6 325.2 334.8 326.8 327.4 340.5 246.9 352.8 186.9 356.2 171.4 358.5 163.8 360.0 159.9 361.8 156.9 364.0 154.2 366.2 152.1 369.0 150.3 374.5 147.4 379.0 144.7 383.2 143.0 386.0 142.2 388.5 141.7 397.8 141.2 402.0 139.9 405.2 139.6 408.0 139.6 410.8 140.0 414.2 141.3 417.0 142.6 420.2 144.7 429.8 152.2 432.5 154.8 435.0 157.5 443.8 169.4 451.0 178.7 464.2 198.4 471.5 208.2 487.2 226.9 492.2 232.0 497.5 236.7 501.8 240.0 506.2 243.0 524.8 254.1 534.0 258.9 538.2 261.5 545.0 266.5 566.5 283.4 571.0 286.6 574.8 289.0 580.5 292.0 598.2 300.2 604.8 302.5 612.0 304.3 617.8 305.2 624.2 305.9 632.0 306.3 637.5 306.2 643.2 305.7 648.2 304.9 654.5 303.3 660.8 301.5 668.2 298.8 679.0 294.3 686.2 291.1 692.8 288.0 698.2 285.0 703.2 281.9 714.8 273.7 721.0 269.8 728.0 266.0 745.2 257.7 753.5 254.4 762.0 251.7 768.2 250.2 783.2 247.4 790.2 246.9 802.8 246.8 811.0 247.1 819.2 247.8 861.8 253.4 893.8 258.5 908.0 261.1 913.0 261.7 918.0 261.9 925.0 261.7 942.2 260.6 955.0 261.0 971.5 261.0" stroke="#c71f1e" stroke-width="1.6"/>
<path d="M114.5 549.8 131.8 550.3 148.0 551.2 154.8 551.2 162.2 550.9 173.2 550.1 187.2 548.4 198.8 546.4 202.2 545.5 205.0 544.5 207.0 543.5 209.2 542.1 215.8 536.7 218.0 535.1 220.5 533.8 223.0 533.2 224.5 533.2 226.0 533.4 235.8 536.5 240.2 537.4 244.5 538.0 247.5 538.2 250.8 538.1 260.2 536.8 263.8 536.0 266.5 534.9 269.8 533.0 273.8 530.1 277.0 527.5 279.8 524.7 282.5 521.4 285.2 517.5 287.0 514.6 289.0 510.4 291.8 503.6 293.8 498.2 298.2 483.1 301.2 470.7 302.5 463.6 306.0 439.2 308.8 422.4 317.2 379.9 321.8 353.3 325.2 338.4 326.8 331.0 340.5 249.5 352.8 188.0 356.2 171.9 358.5 164.1 360.0 160.0 362.0 156.5 364.2 153.7 366.8 151.4 369.5 149.5 374.5 146.8 379.2 143.9 384.2 141.9 386.8 141.1 389.2 140.6 398.2 139.9 401.2 138.8 402.5 138.5 405.5 138.2 408.0 138.1 410.8 138.5 414.2 139.8 417.0 141.1 420.2 143.3 429.8 150.9 432.5 153.5 435.0 156.2 443.8 168.2 451.0 177.6 464.2 197.4 471.5 207.3 487.0 225.9 492.2 231.4 497.5 236.1 501.8 239.4 506.2 242.4 524.5 253.3 534.0 258.3 538.2 261.0 545.2 266.2 566.5 283.2 571.0 286.5 574.8 288.9 580.5 292.0 598.5 300.5 605.2 302.9 612.8 304.8 618.8 305.8 625.5 306.5 632.8 306.9 638.2 306.8 644.0 306.3 649.0 305.5 655.5 303.8 661.8 301.9 668.8 299.4 679.8 294.8 686.5 291.8 693.0 288.5 698.5 285.5 703.2 282.6 714.8 274.3 721.2 270.1 728.2 266.3 745.5 257.8 753.5 254.6 762.0 251.8 768.2 250.3 779.8 247.9 783.5 247.3 790.5 246.9 802.8 246.7 811.0 247.0 819.2 247.7 861.5 253.2 894.0 258.4 908.0 261.0 913.0 261.6 918.0 261.7 925.0 261.5 942.2 260.4 955.0 260.8 971.5 260.8" stroke="#c61e1e" stroke-width="1.6"/>
</g>
<g fill="none" stroke-linejoin="round" stroke-linecap="round">
<path d="M119.0 1250.2 139.8 1248.7 145.5 1248.0 150.8 1247.1 155.2 1246.2 159.5 1245.0 174.2 1239.9 177.8 1239.1 180.8 1238.7 183.5 1238.6 186.5 1238.9 198.5 1241.5 204.2 1242.1 227.0 1241.7 234.0 1241.1 240.0 1240.2 245.8 1238.8 251.5 1237.0 257.2 1234.6 263.2 1231.7 269.0 1228.4 273.2 1225.4 276.5 1222.5 279.5 1219.1 281.8 1215.9 284.0 1212.1 293.5 1192.6 299.8 1182.2 301.5 1179.0 303.8 1173.8 308.5 1160.9 311.5 1154.8 314.2 1150.7 317.8 1146.6 331.2 1133.3 335.8 1128.4 340.2 1122.8 345.0 1115.9 353.8 1101.7 362.2 1086.3 370.0 1070.6 377.2 1054.2 383.8 1037.7 390.0 1019.8 395.8 1001.3 401.0 982.2 404.8 966.9 408.5 949.9 418.8 897.5 422.8 878.2 427.0 860.1 431.2 844.4 434.0 835.7 435.0 833.3 436.2 831.0 438.0 828.7 439.8 827.1 441.8 825.7 443.8 825.0 446.2 824.7 449.0 825.3 451.8 826.6 454.8 828.7 457.5 831.1 460.5 834.3 470.0 846.0 477.5 856.4 484.0 867.0 489.8 877.7 504.5 907.0 509.5 916.0 514.2 923.6 519.0 930.1 521.5 933.0 523.8 935.2 526.0 937.1 528.5 938.8 530.8 940.1 533.2 941.1 537.0 942.1 541.5 942.4 546.2 942.3 560.0 941.2 564.0 941.3 567.8 941.7 572.0 942.7 576.5 944.2 593.0 951.6 600.0 954.1 604.2 955.2 609.0 955.9 614.0 956.3 619.2 956.4 626.5 956.2 633.2 955.5 639.5 954.5 645.5 953.0 650.5 951.4 655.2 949.3 659.0 947.3 664.8 943.8 667.2 942.5 670.0 941.5 673.0 940.7 677.0 940.0 681.5 939.7 686.0 939.8 690.5 940.4 696.2 941.6 702.0 943.4 708.0 945.9 714.5 949.1 720.2 952.3 727.2 956.6 758.0 976.6 772.0 985.1 795.5 998.0 810.2 1006.6 815.5 1009.5 822.8 1012.7 830.2 1015.1 837.5 1016.6 845.2 1017.4 853.5 1017.7 862.5 1017.4 870.5 1016.6 879.2 1015.5 906.8 1010.8 916.2 1009.4 925.5 1008.4 934.0 1008.0 942.8 1008.2 952.2 1009.0 962.2 1010.4 973.0 1012.5" stroke="#282a8c" stroke-width="1.4"/>
<path d="M119.0 1250.4 139.8 1248.8 145.5 1248.1 150.8 1247.3 155.2 1246.3 159.5 1245.1 174.2 1240.0 177.8 1239.1 181.0 1238.7 183.8 1238.6 186.5 1238.8 198.8 1241.4 204.8 1241.9 226.8 1241.7 233.8 1241.1 240.0 1240.2 245.8 1238.8 251.8 1236.9 257.8 1234.4 263.8 1231.4 269.2 1228.2 273.5 1225.3 276.8 1222.3 279.8 1218.8 282.0 1215.6 284.2 1211.9 293.5 1193.2 301.5 1179.8 303.8 1174.7 308.5 1162.4 311.5 1156.4 314.0 1152.7 317.5 1148.4 330.8 1134.8 335.5 1129.5 340.0 1123.7 345.0 1116.3 354.0 1101.5 362.5 1086.1 370.2 1070.5 377.5 1054.2 384.0 1037.9 390.2 1020.3 395.8 1002.8 401.0 983.9 404.8 968.8 408.5 952.0 418.8 900.3 422.8 881.3 427.2 862.4 431.8 846.1 434.2 838.5 435.5 835.7 437.0 833.2 438.8 831.0 440.8 829.2 442.8 827.9 444.8 827.2 447.2 826.9 450.0 827.3 453.0 828.6 456.0 830.6 459.0 833.1 462.2 836.4 467.5 842.2 472.0 847.7 478.8 857.1 485.0 867.3 490.8 877.9 505.8 907.6 510.5 916.1 515.0 923.3 519.8 929.8 524.2 934.6 526.5 936.5 529.0 938.2 531.5 939.6 534.0 940.7 537.8 941.6 542.2 942.1 547.0 942.1 560.5 941.4 564.2 941.5 568.0 942.0 572.0 943.0 576.5 944.4 593.0 951.3 600.0 953.7 604.2 954.6 608.8 955.3 613.5 955.7 618.8 955.8 626.0 955.6 633.0 954.9 639.2 953.9 645.2 952.5 650.2 950.9 655.0 948.9 658.5 947.2 664.2 943.9 667.0 942.5 670.0 941.4 673.0 940.6 677.2 939.9 681.8 939.7 686.2 939.8 691.0 940.4 696.8 941.7 702.8 943.6 709.0 946.1 715.5 949.3 721.5 952.7 728.8 957.0 759.2 976.7 773.0 985.0 795.5 997.2 810.0 1005.6 815.5 1008.6 823.0 1012.0 830.8 1014.5 838.0 1016.0 845.8 1016.9 854.0 1017.2 863.2 1016.9 871.5 1016.3 880.5 1015.3 907.8 1011.1 917.2 1009.8 926.5 1009.0 934.8 1008.6 943.5 1008.8 952.8 1009.6 962.5 1011.0 973.0 1012.9" stroke="#292a8c" stroke-width="1.4"/>
<path d="M119.0 1250.5 139.8 1248.9 145.5 1248.2 150.8 1247.4 155.2 1246.4 159.5 1245.2 174.5 1239.9 178.0 1239.1 181.0 1238.7 183.8 1238.6 186.5 1238.8 199.0 1241.3 205.2 1241.8 219.2 1241.8 226.8 1241.7 233.8 1241.1 240.0 1240.1 245.8 1238.8 251.8 1236.8 257.8 1234.4 263.8 1231.5 269.0 1228.4 273.2 1225.5 276.8 1222.4 279.8 1219.0 282.0 1215.8 284.2 1212.1 293.5 1193.7 301.5 1180.5 303.8 1175.7 308.5 1163.8 310.2 1160.2 312.0 1157.2 314.2 1154.0 317.2 1150.3 331.2 1135.2 336.8 1128.6 343.2 1119.4 351.0 1106.9 358.5 1093.8 365.2 1081.1 371.8 1067.7 377.8 1054.2 384.5 1037.5 390.5 1020.7 396.0 1003.5 401.0 985.7 404.8 970.7 408.5 954.1 419.0 901.8 423.0 883.2 427.5 864.7 432.0 848.6 434.5 841.3 436.0 838.2 437.5 835.8 439.5 833.3 441.5 831.5 443.8 830.0 445.8 829.2 448.5 828.9 451.2 829.3 454.2 830.4 457.2 832.2 460.5 834.8 464.5 838.6 469.0 843.4 473.0 848.1 476.2 852.3 479.5 857.0 486.0 867.5 492.0 878.7 506.8 907.8 511.5 916.3 515.8 923.1 520.5 929.4 522.8 932.0 525.2 934.4 527.5 936.2 530.0 937.9 532.5 939.3 535.0 940.3 539.0 941.4 543.5 941.9 548.2 941.9 560.8 941.6 564.5 941.8 568.0 942.3 572.0 943.2 576.5 944.6 592.8 950.9 599.8 953.1 604.0 954.0 608.5 954.7 613.2 955.1 618.2 955.2 625.2 955.0 632.2 954.4 638.8 953.4 644.8 952.0 650.0 950.4 654.8 948.6 667.2 942.3 670.2 941.2 673.2 940.5 677.5 939.9 682.0 939.7 686.5 939.8 691.2 940.4 697.2 941.7 703.2 943.6 709.8 946.2 716.5 949.5 722.8 953.0 730.2 957.4 760.8 977.0 774.5 985.2 795.5 996.5 810.0 1004.8 815.8 1007.9 823.5 1011.3 831.5 1013.9 838.8 1015.4 846.2 1016.3 854.8 1016.7 864.2 1016.5 872.8 1016.0 882.0 1015.0 909.2 1011.4 918.5 1010.3 927.5 1009.6 935.8 1009.3 944.2 1009.5 953.2 1010.2 962.8 1011.5 973.0 1013.2" stroke="#2b2b8b" stroke-width="1.4"/>
<path d="M119.0 1250.6 139.8 1249.0 145.5 1248.4 150.8 1247.5 155.2 1246.5 159.5 1245.3 174.5 1240.0 177.8 1239.2 181.0 1238.7 183.8 1238.6 186.8 1238.8 199.2 1241.2 206.0 1241.7 219.0 1241.8 226.5 1241.6 233.5 1241.1 240.0 1240.1 246.0 1238.7 252.0 1236.7 258.0 1234.3 264.0 1231.4 269.2 1228.3 273.5 1225.3 277.0 1222.2 280.0 1218.7 282.2 1215.6 284.2 1212.3 293.8 1193.8 301.5 1181.3 303.8 1176.6 308.5 1165.3 311.8 1159.2 314.0 1156.0 317.0 1152.2 330.8 1136.7 336.2 1129.9 342.5 1121.0 350.0 1108.9 357.8 1095.4 365.0 1081.9 371.8 1068.2 378.0 1054.3 384.5 1038.4 390.5 1022.0 396.0 1005.0 401.0 987.4 404.8 972.6 408.5 956.2 419.0 904.6 423.0 886.3 427.8 867.0 432.5 850.4 434.0 846.0 435.2 843.0 436.8 840.2 438.2 837.9 440.2 835.5 442.5 833.4 444.8 832.0 447.0 831.1 449.8 830.7 452.5 831.0 455.5 832.0 458.5 833.6 462.0 836.2 466.2 840.0 470.2 844.1 474.0 848.4 477.2 852.6 480.5 857.2 487.0 867.7 493.0 878.8 508.0 908.4 512.5 916.5 516.5 922.8 521.2 929.1 523.5 931.6 526.0 934.0 528.5 936.0 531.0 937.7 533.5 939.0 536.0 940.0 540.0 941.1 544.5 941.7 549.0 941.9 561.5 941.9 568.2 942.6 572.2 943.5 576.5 944.7 592.5 950.5 599.5 952.6 603.8 953.5 608.2 954.1 613.0 954.5 618.0 954.6 625.0 954.4 631.8 953.8 638.2 952.8 644.5 951.5 649.8 950.0 654.8 948.1 667.2 942.1 670.2 941.2 673.2 940.5 677.5 939.9 682.2 939.7 687.0 939.9 691.8 940.5 697.8 941.8 704.0 943.7 710.5 946.3 717.5 949.7 724.0 953.2 731.5 957.7 762.2 977.2 776.2 985.4 795.5 995.8 810.0 1004.0 815.8 1007.1 823.8 1010.6 828.0 1012.1 832.2 1013.3 839.5 1014.8 847.0 1015.8 855.5 1016.2 865.5 1016.1 874.2 1015.7 883.5 1014.9 920.0 1010.7 928.8 1010.1 936.8 1010.0 945.2 1010.2 954.0 1010.9 963.2 1012.0 973.0 1013.6" stroke="#2c2b8b" stroke-width="1.4"/>
<path d="M119.0 1250.7 140.0 1249.1 145.8 1248.4 151.0 1247.6 155.5 1246.6 159.5 1245.4 174.5 1240.1 178.0 1239.2 181.2 1238.7 184.0 1238.6 186.8 1238.8 199.8 1241.1 207.2 1241.6 219.2 1241.8 226.5 1241.6 233.5 1241.1 240.0 1240.1 246.0 1238.6 252.0 1236.7 258.0 1234.3 264.0 1231.4 269.2 1228.4 273.5 1225.4 277.0 1222.3 280.0 1218.8 282.2 1215.7 284.5 1212.1 293.8 1194.3 301.8 1181.5 303.8 1177.4 308.5 1166.5 311.8 1160.6 314.0 1157.4 316.8 1153.9 330.0 1138.4 335.8 1131.2 341.8 1122.6 348.8 1111.3 357.2 1096.6 364.8 1082.6 371.8 1068.6 378.2 1054.3 384.8 1038.5 390.8 1022.3 396.2 1005.5 401.0 988.9 404.8 974.3 408.5 958.0 419.0 907.1 423.0 888.9 427.8 869.8 432.5 853.4 434.0 848.9 435.5 845.4 437.2 842.2 439.0 839.6 441.2 837.0 443.5 834.9 445.8 833.4 448.2 832.5 451.0 832.1 453.8 832.3 456.8 833.2 459.8 834.7 463.2 837.2 467.5 840.8 471.2 844.5 475.0 848.8 478.0 852.6 481.2 857.2 488.0 868.1 494.0 879.3 508.8 908.4 513.2 916.5 517.0 922.4 521.8 928.7 524.0 931.2 526.5 933.6 529.0 935.6 531.5 937.3 534.0 938.6 536.8 939.8 540.8 940.9 545.5 941.6 550.0 941.9 562.0 942.2 568.5 942.9 576.5 944.9 592.5 950.3 599.5 952.2 603.8 953.0 608.0 953.6 617.5 954.1 624.2 953.9 631.2 953.3 637.8 952.4 644.0 951.1 649.5 949.5 654.5 947.8 667.2 942.0 670.2 941.1 673.2 940.4 677.8 939.8 682.5 939.6 687.2 939.9 692.2 940.5 698.5 941.9 704.8 943.8 711.5 946.5 718.5 949.9 725.0 953.4 732.5 957.8 763.2 977.2 777.5 985.5 816.0 1006.4 824.2 1010.0 832.8 1012.8 840.0 1014.3 847.5 1015.3 856.5 1015.8 866.8 1015.8 875.5 1015.5 884.8 1014.8 921.2 1011.1 929.8 1010.7 937.8 1010.5 946.0 1010.8 954.5 1011.4 963.5 1012.5 973.0 1013.9" stroke="#2d2c8a" stroke-width="1.4"/>
<path d="M119.0 1250.8 140.0 1249.2 145.8 1248.5 151.0 1247.7 155.5 1246.7 159.5 1245.5 174.5 1240.1 178.0 1239.2 181.2 1238.7 184.0 1238.6 186.8 1238.8 200.2 1241.1 209.0 1241.6 219.8 1241.8 227.0 1241.6 233.8 1241.0 240.0 1240.1 246.0 1238.6 252.0 1236.7 258.2 1234.2 264.0 1231.4 269.2 1228.4 273.5 1225.4 277.0 1222.3 280.0 1218.9 282.2 1215.9 284.5 1212.3 293.8 1194.7 301.8 1182.0 303.8 1178.1 308.5 1167.6 311.8 1161.8 316.5 1155.3 329.5 1139.8 335.0 1132.7 340.8 1124.5 347.5 1113.6 356.5 1098.1 364.5 1083.3 371.8 1068.9 378.2 1054.7 384.8 1039.2 390.8 1023.2 396.0 1007.4 400.8 991.1 404.5 976.7 408.2 960.6 419.0 909.1 423.2 890.0 428.0 871.2 432.8 855.0 434.2 850.8 435.8 847.3 437.5 844.1 439.8 840.8 442.0 838.2 444.5 835.9 446.8 834.5 449.2 833.5 452.0 833.1 454.8 833.2 457.8 834.1 460.8 835.5 464.5 838.0 468.2 841.1 472.0 844.7 475.5 848.6 478.8 852.7 482.0 857.4 488.8 868.3 495.0 879.9 509.5 908.7 513.8 916.3 517.5 922.2 522.2 928.4 524.8 931.2 527.2 933.5 529.8 935.5 532.5 937.3 535.0 938.6 537.8 939.7 541.8 940.8 546.5 941.6 562.2 942.4 568.5 943.1 576.5 945.0 592.2 950.0 599.2 951.8 607.8 953.1 617.2 953.6 624.0 953.5 630.8 952.9 637.2 952.0 643.5 950.8 649.0 949.3 654.2 947.5 667.2 941.9 670.2 941.0 673.5 940.4 678.0 939.8 682.8 939.6 687.5 939.9 692.5 940.5 698.8 941.9 705.2 943.9 712.0 946.6 719.2 950.0 725.8 953.5 733.2 957.9 764.2 977.3 779.0 985.8 810.2 1002.9 816.2 1006.0 824.8 1009.6 833.2 1012.3 839.5 1013.7 845.8 1014.7 853.0 1015.3 861.8 1015.6 871.8 1015.5 882.2 1015.0 918.5 1011.8 926.8 1011.3 934.2 1011.0 943.2 1011.1 952.8 1011.7 962.8 1012.7 973.0 1014.2" stroke="#413580" stroke-width="1.4"/>
<path d="M119.0 1250.9 140.0 1249.3 145.8 1248.6 151.0 1247.7 155.5 1246.7 159.8 1245.5 174.5 1240.1 178.0 1239.2 181.2 1238.8 184.2 1238.6 187.5 1238.9 198.2 1240.7 202.2 1241.2 215.0 1241.7 222.5 1241.7 228.8 1241.5 234.5 1240.9 240.0 1240.0 246.0 1238.6 252.2 1236.6 258.5 1234.1 264.2 1231.3 269.2 1228.4 273.5 1225.4 277.0 1222.3 280.2 1218.7 282.8 1215.2 285.2 1211.1 294.5 1193.7 301.8 1182.5 303.8 1178.6 308.5 1168.4 311.5 1163.1 316.0 1156.9 329.0 1141.0 334.8 1133.5 340.5 1125.2 346.8 1115.1 356.0 1099.2 364.2 1084.0 371.8 1069.1 378.5 1054.6 385.0 1039.1 391.0 1023.2 396.2 1007.4 401.0 991.2 404.8 976.7 408.2 961.8 419.0 910.7 423.2 891.7 428.0 873.1 432.8 857.0 434.2 852.7 436.0 848.7 438.0 845.1 440.2 841.9 442.8 838.9 445.0 836.9 447.5 835.3 450.2 834.2 453.0 833.8 455.8 833.9 458.8 834.8 461.8 836.2 465.5 838.6 469.0 841.4 472.5 844.7 476.0 848.6 479.2 852.7 482.5 857.3 489.2 868.2 495.5 879.8 510.0 908.7 514.2 916.3 518.0 922.2 522.8 928.4 525.2 931.1 527.8 933.4 530.2 935.4 533.0 937.2 535.8 938.6 538.5 939.7 542.5 940.8 547.2 941.6 562.8 942.5 568.8 943.3 576.5 945.1 592.0 949.7 599.0 951.5 607.5 952.8 617.0 953.3 623.8 953.1 630.5 952.6 637.0 951.7 643.2 950.5 648.8 949.0 654.0 947.3 667.2 941.9 670.2 941.0 673.5 940.3 678.2 939.8 683.0 939.6 688.0 939.9 693.0 940.6 699.5 942.0 706.0 944.0 712.8 946.7 720.0 950.2 726.8 953.8 734.0 958.0 765.0 977.4 780.2 986.1 810.0 1002.3 816.2 1005.5 825.0 1009.2 833.8 1012.0 840.0 1013.4 846.5 1014.4 854.0 1015.0 863.2 1015.3 873.2 1015.3 883.5 1014.9 919.5 1012.0 934.8 1011.4 943.8 1011.5 953.0 1012.0 962.8 1013.0 973.0 1014.4" stroke="#926858" stroke-width="1.4"/>
<path d="M119.0 1250.9 140.0 1249.3 145.8 1248.7 151.0 1247.8 155.5 1246.8 159.8 1245.6 174.8 1240.1 178.2 1239.2 181.5 1238.8 184.5 1238.7 187.8 1238.9 198.5 1240.6 202.5 1241.1 216.2 1241.7 223.2 1241.7 229.0 1241.5 234.8 1240.9 240.0 1240.0 246.0 1238.6 252.2 1236.6 258.5 1234.1 264.2 1231.3 269.2 1228.4 273.5 1225.5 277.0 1222.4 280.2 1218.7 282.8 1215.3 285.2 1211.3 294.5 1194.1 302.0 1182.5 308.5 1169.2 311.5 1164.1 315.8 1158.2 328.5 1142.2 334.2 1134.6 339.8 1126.6 345.8 1117.0 355.8 1099.8 364.2 1084.2 371.8 1069.4 378.8 1054.4 385.2 1039.0 391.0 1023.9 396.2 1008.3 401.0 992.2 404.8 977.8 408.2 963.0 419.0 912.3 423.2 893.5 428.0 875.0 433.0 858.2 434.8 853.4 436.5 849.6 438.5 846.1 441.0 842.5 443.5 839.7 446.0 837.4 448.5 835.9 451.2 834.8 454.0 834.4 456.8 834.6 459.8 835.3 462.8 836.7 466.2 838.9 469.8 841.6 473.0 844.7 476.5 848.6 479.8 852.7 483.2 857.6 490.0 868.6 496.2 880.3 510.2 908.3 514.5 915.9 518.2 921.8 520.8 925.2 523.2 928.3 525.8 931.0 528.2 933.3 530.8 935.2 533.5 937.0 536.2 938.4 539.2 939.6 543.2 940.8 547.8 941.6 563.5 942.8 570.5 943.8 577.8 945.5 593.8 950.0 601.0 951.6 608.8 952.6 617.0 952.9 623.5 952.8 630.2 952.3 636.8 951.4 643.0 950.2 648.5 948.8 654.0 947.1 667.2 941.8 673.5 940.3 678.2 939.8 683.2 939.6 688.2 939.9 693.2 940.6 699.8 942.0 706.2 944.0 713.2 946.8 720.5 950.2 727.2 953.8 734.5 958.0 765.8 977.4 781.5 986.4 809.8 1001.7 816.5 1005.1 825.2 1008.9 834.2 1011.7 840.8 1013.2 847.2 1014.2 855.2 1014.8 865.2 1015.2 875.0 1015.2 885.0 1014.9 920.2 1012.3 935.5 1011.8 944.2 1011.9 953.5 1012.4 963.0 1013.3 973.0 1014.6" stroke="#deb032" stroke-width="1.4"/>
<path d="M119.0 1251.0 140.0 1249.4 145.8 1248.7 151.0 1247.9 155.5 1246.9 159.8 1245.6 174.8 1240.1 178.2 1239.2 181.5 1238.8 184.5 1238.7 188.0 1238.9 198.8 1240.6 203.0 1241.1 217.2 1241.7 223.8 1241.7 229.2 1241.4 234.8 1240.9 240.0 1240.0 246.0 1238.6 252.2 1236.6 258.5 1234.1 264.2 1231.3 269.2 1228.4 273.5 1225.5 277.0 1222.4 280.2 1218.8 282.8 1215.4 285.2 1211.5 294.5 1194.4 302.0 1182.9 308.2 1170.5 311.2 1165.4 315.2 1159.7 327.8 1143.8 333.5 1136.1 339.0 1128.1 344.8 1118.9 355.0 1101.2 364.0 1084.8 371.8 1069.7 378.8 1054.8 385.2 1039.6 391.0 1024.6 396.2 1009.2 400.8 994.1 404.5 979.9 408.2 964.2 419.0 913.9 423.2 895.2 428.0 876.8 433.0 860.2 434.8 855.4 436.8 851.0 439.0 847.1 441.8 843.2 444.2 840.3 446.8 838.1 449.5 836.4 452.2 835.4 455.0 834.9 457.8 835.1 460.8 835.9 463.8 837.2 467.0 839.2 470.2 841.7 473.5 844.7 477.0 848.5 480.2 852.6 483.8 857.6 487.0 862.6 490.5 868.5 496.8 880.2 510.8 908.3 515.0 915.9 518.8 921.8 521.2 925.2 523.8 928.2 526.2 930.9 529.0 933.4 531.5 935.3 534.2 937.0 537.0 938.4 540.0 939.6 544.0 940.8 548.5 941.6 564.0 943.0 570.8 944.0 577.8 945.6 593.2 949.7 600.2 951.2 608.2 952.2 616.8 952.6 623.2 952.4 629.8 951.9 636.2 951.1 642.5 949.9 648.2 948.5 653.8 946.9 667.2 941.7 673.5 940.3 678.2 939.7 683.2 939.6 688.2 939.9 693.5 940.6 700.0 942.0 706.8 944.1 713.8 946.8 721.2 950.4 727.8 953.8 735.0 957.9 766.8 977.6 783.0 986.8 809.8 1001.2 816.8 1004.7 825.8 1008.6 834.8 1011.4 841.2 1012.9 848.0 1013.9 856.8 1014.6 867.2 1015.0 877.0 1015.1 886.5 1014.9 921.2 1012.6 936.2 1012.2 945.0 1012.3 954.0 1012.8 963.5 1013.6 973.0 1014.8" stroke="#dfae31" stroke-width="1.4"/>
<path d="M119.0 1251.1 140.2 1249.5 146.0 1248.8 151.0 1247.9 155.5 1246.9 159.8 1245.7 174.8 1240.2 178.2 1239.3 181.5 1238.8 184.5 1238.7 188.0 1238.9 199.0 1240.5 203.5 1241.0 218.0 1241.6 224.0 1241.7 229.5 1241.4 234.8 1240.8 240.0 1240.0 246.0 1238.5 252.2 1236.5 258.5 1234.1 264.5 1231.2 269.5 1228.3 273.8 1225.3 277.2 1222.2 280.5 1218.6 283.0 1215.2 285.5 1211.2 294.5 1194.7 302.0 1183.4 308.2 1171.4 311.2 1166.3 315.0 1161.0 327.0 1145.4 333.0 1137.3 338.2 1129.6 344.0 1120.4 354.8 1101.8 364.2 1084.5 372.2 1068.9 379.2 1054.1 385.8 1038.9 391.5 1023.9 396.5 1009.3 401.0 994.2 404.5 981.0 408.2 965.4 419.0 915.5 423.2 897.0 428.2 877.8 433.2 861.4 435.0 856.7 437.0 852.4 439.5 848.1 442.2 844.1 444.8 841.2 447.5 838.8 450.2 837.0 453.0 835.9 455.8 835.4 458.8 835.5 461.5 836.2 464.8 837.6 468.0 839.6 471.0 841.9 474.2 844.9 477.5 848.5 480.8 852.6 484.2 857.5 487.5 862.5 491.0 868.4 497.2 880.1 511.2 908.4 515.2 915.6 519.0 921.4 524.0 927.9 526.5 930.5 529.2 933.0 532.0 935.2 534.8 936.9 537.8 938.5 540.8 939.7 544.8 940.8 549.2 941.7 564.5 943.2 571.2 944.2 578.0 945.7 592.8 949.4 599.8 950.9 608.0 951.9 616.5 952.2 623.0 952.1 629.5 951.6 636.0 950.8 642.2 949.6 648.0 948.3 653.5 946.7 667.2 941.6 673.8 940.2 678.8 939.7 683.8 939.6 688.8 939.9 694.0 940.6 700.5 942.1 707.2 944.2 714.2 946.9 721.8 950.4 728.2 953.8 735.5 957.9 767.5 977.7 775.2 982.2 784.5 987.2 809.5 1000.6 817.2 1004.5 826.2 1008.3 835.2 1011.2 842.0 1012.7 848.8 1013.6 858.5 1014.4 869.5 1014.9 879.0 1015.0 888.2 1014.9 922.2 1012.9 937.0 1012.5 945.5 1012.7 954.5 1013.1 963.8 1013.9 973.0 1015.0" stroke="#dfac30" stroke-width="1.4"/>
<path d="M119.0 1251.2 140.2 1249.5 146.0 1248.9 151.0 1248.0 155.5 1247.0 159.8 1245.7 174.8 1240.2 178.2 1239.3 181.8 1238.8 184.8 1238.7 188.2 1238.9 199.5 1240.5 204.0 1241.0 218.5 1241.6 224.5 1241.6 229.8 1241.4 235.0 1240.8 240.0 1240.0 246.0 1238.5 252.2 1236.5 258.8 1234.0 264.5 1231.2 269.5 1228.3 273.8 1225.3 277.2 1222.2 280.5 1218.6 283.0 1215.3 285.5 1211.4 294.5 1195.0 302.2 1183.4 308.2 1172.2 311.0 1167.6 314.5 1162.6 326.0 1147.4 332.0 1139.2 337.5 1131.1 343.0 1122.3 354.2 1102.9 364.0 1085.2 372.0 1069.7 379.2 1054.4 385.8 1039.4 391.5 1024.6 396.5 1010.1 401.0 995.2 404.5 982.1 408.2 966.5 419.0 917.1 423.2 898.8 428.2 879.7 433.2 863.4 435.2 858.1 437.2 853.8 440.0 849.0 442.8 845.0 445.5 841.8 448.2 839.3 451.0 837.5 454.0 836.3 456.8 835.8 459.8 835.9 462.8 836.7 465.8 838.0 468.8 839.7 471.8 842.0 474.8 844.8 478.0 848.4 481.2 852.5 484.8 857.4 488.0 862.4 491.5 868.3 497.8 880.1 511.5 908.0 515.5 915.2 519.5 921.4 522.0 924.8 524.8 928.1 527.2 930.7 530.0 933.2 532.8 935.3 535.5 937.0 538.5 938.5 541.8 939.8 545.8 940.9 550.0 941.8 565.0 943.4 571.8 944.5 592.0 949.1 599.0 950.5 607.5 951.5 616.5 951.9 622.8 951.7 629.0 951.3 635.5 950.5 641.8 949.4 647.5 948.1 653.2 946.4 667.0 941.6 673.8 940.2 678.8 939.7 683.8 939.6 689.0 939.9 694.2 940.6 701.0 942.1 707.8 944.2 715.0 947.0 722.5 950.5 729.0 953.9 736.0 957.8 768.2 977.7 776.2 982.3 786.0 987.6 809.2 1000.0 817.5 1004.1 826.8 1008.0 835.8 1010.9 842.5 1012.4 849.5 1013.4 860.5 1014.3 872.0 1014.9 881.0 1015.0 890.0 1014.9 923.5 1013.2 937.8 1012.9 946.5 1013.1 955.2 1013.5 964.0 1014.2 973.0 1015.2" stroke="#dfaa2f" stroke-width="1.4"/>
<path d="M119.0 1251.2 140.2 1249.6 146.0 1248.9 151.2 1248.0 155.8 1247.0 159.8 1245.8 174.8 1240.2 178.2 1239.3 181.8 1238.8 184.5 1238.7 187.5 1238.8 203.0 1240.8 219.0 1241.6 224.8 1241.6 230.0 1241.3 235.2 1240.8 240.2 1239.9 246.5 1238.4 252.8 1236.3 259.0 1233.9 264.8 1231.1 269.8 1228.2 274.0 1225.2 277.5 1222.0 280.8 1218.4 283.2 1215.0 285.5 1211.5 294.8 1195.0 302.5 1183.5 308.2 1173.0 310.8 1168.9 313.8 1164.6 324.8 1149.8 331.2 1140.8 336.8 1132.6 342.2 1123.8 353.8 1103.9 364.2 1084.9 372.5 1069.0 379.8 1053.8 386.0 1039.4 391.8 1024.7 396.8 1010.2 401.0 996.2 404.5 983.2 408.0 968.8 419.0 918.7 423.2 900.5 428.2 881.6 433.2 865.3 435.2 860.0 437.8 854.7 440.5 849.9 443.5 845.5 446.2 842.3 449.2 839.6 452.0 837.8 455.0 836.6 457.8 836.1 460.5 836.2 463.5 836.9 466.5 838.1 469.5 839.9 472.5 842.2 475.5 845.0 478.5 848.3 481.8 852.4 485.2 857.3 488.5 862.3 492.0 868.2 498.2 880.0 511.8 907.6 515.8 914.8 519.8 921.1 522.2 924.5 525.0 927.8 527.8 930.6 530.5 933.1 533.2 935.2 536.2 937.1 539.2 938.6 542.5 939.8 546.5 941.0 550.8 941.9 565.5 943.6 572.2 944.7 591.5 948.8 598.2 950.1 607.0 951.1 616.2 951.5 622.5 951.4 628.8 951.0 635.0 950.2 641.2 949.1 647.2 947.8 653.0 946.2 667.0 941.5 673.8 940.2 678.8 939.7 684.0 939.6 689.2 939.9 694.5 940.6 701.2 942.1 708.2 944.3 715.5 947.1 723.2 950.6 729.8 954.0 736.5 957.8 768.8 977.6 777.0 982.4 787.2 987.9 809.2 999.5 818.0 1003.9 827.2 1007.7 836.2 1010.6 843.0 1012.1 850.2 1013.2 862.5 1014.2 874.5 1014.8 883.0 1015.0 891.8 1014.9 924.8 1013.5 938.8 1013.3 955.8 1013.9 973.0 1015.4" stroke="#e0a82e" stroke-width="1.4"/>
<path d="M119.0 1251.3 140.2 1249.7 146.0 1249.0 151.2 1248.1 155.8 1247.1 159.8 1245.9 174.8 1240.3 178.2 1239.3 181.8 1238.8 184.8 1238.7 187.8 1238.8 203.2 1240.7 219.5 1241.6 225.0 1241.6 230.0 1241.3 235.0 1240.8 240.0 1239.9 246.2 1238.4 252.5 1236.4 259.0 1233.9 264.8 1231.1 269.5 1228.4 273.8 1225.4 277.5 1222.1 280.8 1218.5 283.0 1215.5 285.2 1212.1 294.0 1196.5 302.2 1184.4 310.5 1170.2 330.0 1143.2 335.5 1135.0 341.0 1126.2 352.8 1105.8 364.2 1085.1 372.8 1068.7 380.0 1053.6 386.2 1039.3 391.8 1025.4 396.8 1011.1 401.0 997.2 404.5 984.3 408.0 970.0 419.0 920.3 423.2 902.3 428.2 883.5 433.5 866.6 435.5 861.4 438.0 856.1 441.0 850.7 444.0 846.3 447.0 842.7 450.0 840.0 453.0 838.0 456.0 836.8 458.8 836.3 461.5 836.4 464.2 837.0 467.2 838.2 470.0 839.8 473.0 842.1 476.0 844.9 479.0 848.2 482.2 852.3 485.8 857.2 489.2 862.6 492.5 868.1 498.5 879.5 512.2 907.7 516.2 914.9 520.2 921.1 522.8 924.4 525.5 927.7 528.2 930.6 531.2 933.2 534.0 935.3 537.0 937.1 540.2 938.7 543.5 940.0 547.0 941.1 551.0 941.9 571.0 944.6 597.2 949.7 606.8 950.8 616.2 951.2 622.2 951.1 628.2 950.6 634.5 949.9 640.8 948.8 646.8 947.6 652.5 946.1 667.0 941.5 673.8 940.1 679.0 939.7 684.2 939.6 689.5 939.9 695.0 940.7 702.0 942.2 709.0 944.4 716.2 947.2 724.0 950.7 730.2 954.0 737.0 957.8 769.5 977.7 778.2 982.7 788.8 988.3 809.2 999.1 818.2 1003.5 827.8 1007.4 836.8 1010.3 843.5 1011.8 851.0 1012.9 864.5 1014.1 877.0 1014.9 885.2 1015.1 893.8 1015.0 926.0 1013.8 939.8 1013.7 956.5 1014.2 973.0 1015.6" stroke="#da842a" stroke-width="1.4"/>
<path d="M119.0 1251.4 140.2 1249.8 146.0 1249.1 151.2 1248.2 155.8 1247.1 159.8 1245.9 175.0 1240.2 178.5 1239.3 182.0 1238.8 184.8 1238.7 188.0 1238.8 204.0 1240.7 220.0 1241.6 225.5 1241.6 230.5 1241.3 235.5 1240.7 240.2 1239.9 246.5 1238.3 252.8 1236.3 259.2 1233.8 265.0 1231.0 269.8 1228.2 274.0 1225.2 277.8 1221.9 281.0 1218.2 285.2 1212.3 294.0 1196.8 302.5 1184.4 310.0 1171.9 328.8 1145.6 334.5 1137.0 340.0 1128.1 351.2 1108.7 364.2 1085.3 372.8 1069.0 380.2 1053.5 386.5 1039.3 392.0 1025.5 396.8 1012.0 401.0 998.2 404.5 985.4 408.0 971.2 419.0 921.9 423.2 904.0 428.2 885.3 433.5 868.5 435.8 862.7 438.2 857.4 441.5 851.5 444.5 847.0 447.5 843.4 450.8 840.3 453.8 838.3 457.0 837.0 459.5 836.5 462.2 836.5 465.2 837.2 468.0 838.3 470.8 839.9 473.5 842.0 476.5 844.8 479.5 848.1 483.0 852.5 486.2 857.1 489.8 862.5 493.0 868.0 499.0 879.4 512.5 907.3 516.5 914.5 520.5 920.7 523.2 924.4 526.0 927.7 528.8 930.5 531.8 933.2 534.8 935.4 537.8 937.2 541.0 938.8 544.2 940.1 548.2 941.3 552.5 942.2 571.2 944.8 596.0 949.3 606.0 950.4 616.0 950.8 622.0 950.7 628.0 950.3 634.0 949.6 640.2 948.6 646.2 947.3 652.2 945.8 667.0 941.4 674.0 940.1 679.2 939.6 684.5 939.6 690.0 940.0 695.5 940.7 702.5 942.3 709.5 944.4 716.8 947.2 724.5 950.7 732.0 954.6 740.0 959.2 772.2 978.9 790.0 988.6 809.2 998.6 818.8 1003.2 828.2 1007.1 837.2 1010.0 844.0 1011.6 851.5 1012.7 866.2 1014.1 879.2 1014.9 887.2 1015.1 896.0 1015.1 927.8 1014.2 941.0 1014.1 957.2 1014.6 973.0 1015.8" stroke="#d25626" stroke-width="1.4"/>
<path d="M119.0 1251.5 140.5 1249.8 146.2 1249.1 151.2 1248.3 155.8 1247.2 159.8 1246.0 175.0 1240.3 178.5 1239.3 182.0 1238.8 185.0 1238.7 188.5 1238.8 204.8 1240.7 220.2 1241.6 225.5 1241.6 230.2 1241.3 235.2 1240.7 240.0 1239.9 246.2 1238.4 252.8 1236.3 259.2 1233.8 265.0 1231.0 269.8 1228.3 274.0 1225.2 277.8 1221.9 281.0 1218.3 283.5 1215.1 285.8 1211.7 292.8 1199.3 295.2 1195.3 302.5 1185.0 310.8 1171.9 321.0 1157.6 328.0 1147.5 333.5 1139.1 338.5 1131.0 348.8 1113.3 364.5 1085.0 373.2 1068.4 380.8 1052.9 386.8 1039.5 392.2 1025.7 396.8 1013.1 401.0 999.5 404.5 986.7 408.0 972.6 419.0 923.9 423.5 905.2 428.5 886.8 433.8 870.3 436.2 864.0 439.0 858.1 442.2 852.3 445.5 847.4 448.8 843.4 451.8 840.6 455.0 838.4 458.2 837.0 460.8 836.6 463.5 836.7 466.2 837.2 469.0 838.3 471.8 840.0 474.5 842.1 477.2 844.8 480.2 848.1 483.8 852.5 487.0 857.1 490.2 862.1 493.5 867.6 499.5 879.1 509.0 899.2 512.8 906.7 517.0 914.4 521.0 920.6 523.8 924.2 526.5 927.5 529.5 930.6 532.5 933.2 535.5 935.4 538.8 937.4 542.0 939.0 545.5 940.4 549.8 941.6 554.5 942.6 571.2 945.0 594.2 948.8 605.2 950.0 616.0 950.4 621.8 950.3 627.5 949.9 633.5 949.2 639.5 948.3 651.5 945.7 666.8 941.3 674.0 940.1 679.2 939.6 684.8 939.6 690.2 940.0 696.0 940.8 703.0 942.3 710.2 944.5 717.8 947.4 725.5 950.9 732.8 954.6 740.8 959.1 772.8 978.7 790.8 988.5 809.2 998.0 819.2 1002.8 829.0 1006.8 837.8 1009.7 844.5 1011.2 852.2 1012.4 868.8 1014.1 882.0 1015.0 898.5 1015.3 929.8 1014.6 942.8 1014.5 958.2 1015.0 973.0 1016.0" stroke="#c82424" stroke-width="1.4"/>
<path d="M119.0 1251.6 140.5 1249.9 146.2 1249.2 151.2 1248.3 155.8 1247.3 159.8 1246.1 175.0 1240.3 178.5 1239.4 182.0 1238.8 185.2 1238.7 189.0 1238.8 205.8 1240.7 214.2 1241.3 220.8 1241.6 225.8 1241.5 230.8 1241.2 235.5 1240.6 240.2 1239.8 246.5 1238.3 253.0 1236.2 259.5 1233.7 265.2 1230.9 270.0 1228.1 274.2 1225.1 278.0 1221.7 281.2 1218.1 283.8 1214.9 286.0 1211.5 292.8 1199.7 295.2 1195.7 302.2 1186.0 310.0 1174.1 323.8 1154.6 330.5 1144.4 336.8 1134.4 346.2 1118.0 365.0 1084.3 373.8 1067.7 381.2 1052.4 387.2 1039.0 392.5 1026.0 397.0 1013.5 401.0 1000.7 404.2 989.0 407.8 975.2 419.0 925.9 423.5 907.4 428.8 888.3 434.0 872.1 436.8 865.2 439.8 858.8 443.0 852.9 446.2 847.9 449.5 843.9 452.8 840.7 456.0 838.5 459.5 837.0 462.0 836.6 464.8 836.7 467.5 837.3 470.0 838.4 472.5 839.9 475.2 842.1 478.0 844.7 481.0 848.1 484.5 852.5 487.8 857.0 491.0 862.1 494.0 867.2 499.8 878.3 509.2 898.6 513.0 906.2 517.2 913.9 521.5 920.4 524.2 924.1 527.2 927.6 530.2 930.6 533.2 933.3 536.2 935.5 539.5 937.5 543.0 939.2 546.5 940.6 551.0 941.9 556.5 943.1 591.2 948.1 604.0 949.5 616.0 949.9 621.5 949.8 627.0 949.5 638.5 948.0 650.8 945.5 666.8 941.2 674.0 940.0 679.5 939.6 685.0 939.6 690.8 940.0 696.5 940.8 703.8 942.4 711.0 944.6 718.5 947.4 726.2 950.9 733.5 954.6 741.2 959.0 773.5 978.6 791.2 988.2 809.0 997.3 819.8 1002.4 829.5 1006.5 838.2 1009.3 845.0 1010.9 853.0 1012.1 871.0 1014.1 884.5 1015.1 901.5 1015.5 932.5 1015.0 945.2 1015.0 959.5 1015.4 973.0 1016.3" stroke="#c82424" stroke-width="1.4"/>
<path d="M119.0 1251.7 140.5 1250.0 146.2 1249.3 151.2 1248.5 155.8 1247.4 159.8 1246.2 175.0 1240.3 178.8 1239.4 182.2 1238.8 185.8 1238.7 189.8 1238.8 207.8 1240.7 221.0 1241.5 226.0 1241.5 230.8 1241.2 235.5 1240.6 240.2 1239.8 246.5 1238.2 253.0 1236.2 259.5 1233.7 265.2 1230.9 270.0 1228.2 274.2 1225.1 278.0 1221.8 281.5 1218.0 283.8 1215.1 286.0 1211.7 295.2 1196.2 303.0 1185.6 309.2 1176.5 319.8 1161.7 327.2 1150.4 334.2 1139.1 343.8 1122.8 365.5 1083.7 374.5 1066.7 382.0 1051.5 388.0 1038.2 393.0 1025.9 397.2 1014.1 401.2 1001.4 404.5 989.7 408.0 975.9 419.0 928.3 423.5 910.1 429.0 890.3 434.2 874.3 437.2 866.9 440.5 859.9 444.0 853.4 447.2 848.4 450.8 843.9 454.0 840.7 457.2 838.4 460.8 836.9 463.2 836.5 466.0 836.6 468.5 837.2 471.0 838.3 473.5 839.8 476.2 842.0 479.0 844.7 482.0 848.1 485.2 852.2 488.5 856.8 491.8 861.9 494.8 867.0 500.2 877.7 509.5 897.7 513.2 905.4 517.8 913.6 522.0 920.1 524.8 923.8 527.8 927.3 530.8 930.4 534.0 933.2 537.2 935.7 540.5 937.7 544.0 939.4 547.8 940.9 552.8 942.4 558.5 943.5 585.0 947.2 601.8 948.9 609.2 949.3 616.0 949.4 626.5 949.0 637.5 947.6 649.5 945.3 666.5 941.2 674.2 940.0 680.0 939.6 685.8 939.6 691.5 940.0 697.2 940.9 704.5 942.5 712.0 944.7 719.5 947.5 727.2 951.0 734.5 954.7 742.2 959.0 774.0 978.3 792.0 988.0 809.0 996.6 820.5 1002.0 830.2 1006.1 839.0 1008.9 845.8 1010.5 854.5 1011.8 873.8 1014.2 887.5 1015.4 905.0 1015.8 948.8 1015.6 961.2 1015.9 973.0 1016.6" stroke="#c72324" stroke-width="1.4"/>
<path d="M119.0 1251.8 140.5 1250.1 146.2 1249.4 151.2 1248.5 155.8 1247.5 159.8 1246.3 171.5 1241.6 175.2 1240.3 178.8 1239.4 182.5 1238.8 186.2 1238.6 190.2 1238.8 209.8 1240.8 221.2 1241.5 226.0 1241.5 230.8 1241.2 235.5 1240.6 240.2 1239.8 246.8 1238.2 253.2 1236.1 259.8 1233.6 265.5 1230.8 270.2 1228.0 274.5 1224.9 278.2 1221.6 281.8 1217.8 284.0 1214.9 286.2 1211.6 295.2 1196.6 303.8 1185.3 317.5 1166.1 324.2 1155.9 331.8 1143.9 341.8 1126.7 366.5 1082.1 375.5 1065.2 382.8 1050.5 388.2 1038.4 393.2 1026.2 397.5 1014.5 401.2 1002.6 404.5 991.1 407.8 978.4 419.0 930.3 423.8 911.3 429.2 891.9 434.5 876.1 437.8 868.0 441.2 860.4 444.8 853.9 448.2 848.4 451.8 843.8 455.0 840.6 458.5 838.1 461.8 836.7 464.2 836.3 466.8 836.4 469.2 837.0 471.8 838.1 474.2 839.7 477.0 841.9 479.8 844.6 483.0 848.3 486.2 852.5 489.2 856.7 492.2 861.4 495.2 866.6 500.5 876.9 509.8 897.1 513.5 904.8 517.8 912.6 522.2 919.6 525.2 923.6 528.2 927.2 531.2 930.3 534.5 933.1 537.8 935.6 541.2 937.8 544.8 939.6 548.5 941.1 553.2 942.6 558.8 943.7 577.5 946.3 588.2 947.5 598.2 948.3 607.8 948.8 615.8 949.0 625.8 948.6 636.2 947.3 647.8 945.2 666.2 941.1 674.2 939.9 680.2 939.5 686.0 939.6 691.8 940.0 697.8 940.9 705.0 942.5 712.5 944.7 720.2 947.6 728.0 951.0 734.2 954.1 740.8 957.7 772.2 976.8 781.5 982.0 792.2 987.6 809.0 996.1 821.5 1001.9 831.2 1005.9 839.8 1008.6 848.2 1010.5 864.5 1012.9 878.5 1014.6 890.0 1015.6 898.8 1016.0 908.5 1016.2 952.5 1016.1 973.0 1016.8" stroke="#c72324" stroke-width="1.4"/>
<path d="M119.0 1251.8 140.5 1250.2 146.2 1249.5 151.5 1248.6 156.0 1247.5 160.0 1246.3 171.2 1241.8 175.2 1240.3 178.8 1239.4 182.5 1238.8 186.5 1238.6 191.0 1238.8 211.5 1240.9 221.8 1241.5 226.5 1241.5 231.0 1241.1 235.8 1240.5 240.5 1239.7 247.0 1238.1 253.8 1235.9 260.2 1233.4 265.8 1230.7 270.2 1228.1 274.5 1225.0 278.5 1221.4 282.0 1217.6 286.2 1211.8 293.0 1200.5 295.8 1196.3 310.5 1177.0 317.0 1168.0 322.5 1159.6 329.0 1149.1 339.5 1131.1 367.8 1080.1 376.5 1063.6 383.8 1049.0 389.0 1037.4 393.8 1025.9 397.8 1014.9 401.5 1003.1 404.5 992.5 407.8 979.9 419.0 932.4 423.8 913.5 429.2 894.3 434.8 877.9 438.2 869.1 442.0 860.9 445.5 854.3 449.0 848.6 452.5 843.9 455.8 840.6 459.2 838.0 461.0 837.1 462.8 836.5 465.2 836.1 467.8 836.2 470.0 836.7 472.5 837.9 475.0 839.5 477.8 841.8 480.5 844.5 483.8 848.2 487.0 852.4 490.0 856.7 493.0 861.4 495.8 866.3 501.0 876.7 509.8 896.0 513.8 904.3 518.2 912.6 522.8 919.5 525.8 923.5 528.8 927.0 532.0 930.4 535.2 933.3 538.8 935.9 542.2 938.1 545.8 939.9 549.5 941.5 554.2 942.9 559.5 944.0 566.5 945.1 575.0 946.1 585.0 947.1 595.8 947.8 607.2 948.4 615.8 948.6 625.2 948.2 635.0 947.1 645.8 945.2 665.8 941.1 674.5 939.9 680.5 939.5 686.5 939.6 692.5 940.1 698.5 941.0 706.0 942.6 713.5 944.8 721.0 947.6 728.8 951.0 735.0 954.1 741.5 957.7 772.5 976.4 781.8 981.6 792.2 987.1 808.5 995.2 822.2 1001.6 832.0 1005.6 840.2 1008.3 849.0 1010.2 869.2 1013.3 881.5 1014.9 892.2 1015.9 910.0 1016.5 952.2 1016.5 973.0 1017.1" stroke="#c72324" stroke-width="1.4"/>
<path d="M119.0 1251.9 140.8 1250.3 146.5 1249.5 151.5 1248.7 156.0 1247.6 160.0 1246.3 171.5 1241.7 175.2 1240.4 179.0 1239.4 182.8 1238.8 187.0 1238.6 191.8 1238.8 212.2 1241.0 222.0 1241.5 226.8 1241.4 231.2 1241.1 235.8 1240.5 240.5 1239.7 247.2 1238.0 254.0 1235.8 260.5 1233.3 266.0 1230.6 270.8 1227.8 275.0 1224.6 279.0 1221.0 282.5 1217.1 286.5 1211.6 293.2 1200.5 296.2 1196.0 309.8 1179.1 315.5 1171.3 320.5 1163.8 326.2 1154.5 337.0 1136.0 369.2 1077.6 377.8 1061.7 384.5 1048.1 389.8 1036.5 394.2 1025.6 398.0 1015.3 401.5 1004.3 404.5 993.8 407.8 981.3 419.0 934.4 423.8 915.7 429.2 896.6 432.2 887.4 435.0 879.7 438.8 870.2 442.5 861.8 446.2 854.5 450.0 848.4 453.2 843.9 456.8 840.2 460.2 837.6 462.0 836.7 463.8 836.1 466.2 835.7 468.5 835.9 471.0 836.6 473.5 837.8 476.0 839.5 478.8 841.9 481.8 844.9 484.8 848.4 487.8 852.3 490.5 856.2 496.0 865.4 501.0 875.4 510.0 895.4 514.0 903.8 518.5 912.1 523.0 919.1 526.0 923.1 529.2 926.9 532.5 930.3 536.0 933.4 539.5 936.1 543.0 938.3 546.8 940.3 550.5 941.8 555.0 943.2 560.2 944.3 566.8 945.4 574.2 946.2 591.8 947.4 607.0 948.0 615.8 948.1 624.8 947.8 633.8 946.8 643.2 945.2 664.8 941.1 674.8 939.8 681.0 939.5 687.0 939.6 693.0 940.1 699.2 941.0 706.8 942.6 714.2 944.8 721.8 947.6 729.5 951.0 735.5 954.0 742.0 957.5 773.0 976.2 782.2 981.4 792.2 986.6 808.0 994.4 823.2 1001.4 832.8 1005.3 840.8 1007.9 849.2 1009.8 873.0 1013.7 884.0 1015.2 894.5 1016.2 904.0 1016.7 914.5 1017.0 955.2 1017.0 973.0 1017.3" stroke="#c62224" stroke-width="1.4"/>
<path d="M119.0 1252.0 140.8 1250.3 146.5 1249.6 151.5 1248.8 156.0 1247.7 160.0 1246.4 175.2 1240.4 179.0 1239.4 182.8 1238.8 187.2 1238.6 192.5 1238.8 213.0 1241.0 222.2 1241.5 226.8 1241.4 231.2 1241.1 236.0 1240.5 240.8 1239.6 247.5 1237.9 254.2 1235.7 260.8 1233.2 266.2 1230.5 271.0 1227.6 275.2 1224.4 279.2 1220.8 282.8 1216.9 286.8 1211.5 293.0 1201.3 295.8 1197.2 299.5 1192.3 308.5 1181.7 312.5 1176.7 317.8 1169.1 323.5 1160.0 334.2 1141.4 353.0 1107.0 371.0 1074.7 378.8 1060.2 385.2 1047.2 390.2 1036.2 394.5 1026.0 398.0 1016.4 401.5 1005.6 404.5 995.2 407.5 983.8 419.0 936.4 424.0 917.0 429.8 897.4 435.5 880.7 439.5 870.6 443.2 862.1 447.0 854.7 450.8 848.4 454.2 843.5 457.8 839.8 461.2 837.2 464.5 835.8 467.0 835.4 469.2 835.6 471.5 836.2 474.0 837.4 476.5 839.1 479.2 841.5 482.2 844.5 485.5 848.3 488.5 852.2 491.2 856.1 496.5 865.0 501.5 875.1 510.2 894.8 514.0 902.8 518.5 911.1 523.2 918.6 526.5 923.0 529.8 926.9 533.0 930.2 536.5 933.4 540.0 936.1 543.8 938.6 547.5 940.5 551.2 942.1 555.8 943.5 561.0 944.6 567.0 945.6 573.5 946.3 587.0 947.1 615.5 947.7 624.0 947.4 632.5 946.5 641.0 945.2 662.8 941.3 669.2 940.4 675.0 939.8 681.2 939.5 687.5 939.6 693.8 940.1 700.0 941.1 707.5 942.7 715.0 944.9 722.5 947.6 730.0 950.8 736.2 953.9 742.8 957.5 773.2 975.8 782.5 981.0 792.2 986.1 807.2 993.5 824.2 1001.3 833.5 1005.0 841.2 1007.6 849.2 1009.4 875.8 1014.0 886.2 1015.5 896.8 1016.5 907.2 1017.1 919.0 1017.4 958.2 1017.4 973.0 1017.6" stroke="#c62224" stroke-width="1.4"/>
</g>
<g stroke="#000" fill="none">
<rect x="114.5" y="9.6" width="857" height="575.2" stroke-width="3.4"/>
<rect x="117.5" y="741.5" width="857.2" height="575.2" stroke-width="3.5"/>
</g>
<!-- Panel a text -->
<g fill="#000" stroke="none">
<path d="M254 353.6 L278.6 342.8 L274.4 353.6 L278.6 364.4 Z"/>
<path d="M357.8 353.6 L332.6 342.8 L336.8 353.6 L332.6 364.4 Z"/>
</g>
<path d="M274 353.6 H337" stroke="#000" stroke-width="3.6"/>
<!-- Panel b text -->
<g fill="#000" stroke="none">
<path d="M414.5 811 L440 801.5 L436 811.5 L440 822.5 Z"/>
<path d="M495.5 813 L470.5 802 L474 812.5 L470.5 823.5 Z"/>
</g>
<path d="M436 811.7 L474 812.3" stroke="#000" stroke-width="3.5"/>
<g fill="#000" stroke="#000" stroke-width="0.28">
<text transform="translate(99.0 19.0) scale(1 1.035)" font-size="26" text-anchor="end">2.5</text>
<text transform="translate(99.0 149.5) scale(1 1.035)" font-size="26" text-anchor="end">2.0</text>
<text transform="translate(99.0 280.0) scale(1 1.035)" font-size="26" text-anchor="end">1.5</text>
<text transform="translate(99.0 411.0) scale(1 1.035)" font-size="26" text-anchor="end">1.0</text>
<text transform="translate(99.0 541.5) scale(1 1.035)" font-size="26" text-anchor="end">0.5</text>
<text transform="translate(114.5 619.5) scale(1 1.035)" font-size="26" text-anchor="middle">7100</text>
<text transform="translate(286.0 619.5) scale(1 1.035)" font-size="26" text-anchor="middle">7120</text>
<text transform="translate(457.5 619.5) scale(1 1.035)" font-size="26" text-anchor="middle">7140</text>
<text transform="translate(629.0 619.5) scale(1 1.035)" font-size="26" text-anchor="middle">7160</text>
<text transform="translate(800.5 619.5) scale(1 1.035)" font-size="26" text-anchor="middle">7180</text>
<text transform="translate(971.5 619.5) scale(1 1.035)" font-size="26" text-anchor="middle">7200</text>
<text transform="translate(543.5 658.0) scale(1 1.035)" font-size="26" text-anchor="middle">Photon energy / eV</text>
<text transform="translate(33.0 297.3) rotate(-90) scale(1 1.035)" font-size="26" text-anchor="middle">Absorbance</text>
<text transform="translate(166.6 82.8) scale(1 1.0)" font-size="52">(a)</text>
<text transform="translate(120.9 368.0) scale(1 1.035)" font-size="35">LiFePO</text>
<text transform="translate(240.1 368.0) scale(1 1.035)" font-size="21">4</text>
<text transform="translate(365.3 367.0) scale(1 1.035)" font-size="35">FePO</text>
<text transform="translate(456.5 367.0) scale(1 1.035)" font-size="21">4</text>
<text transform="translate(102.0 751.0) scale(1 1.035)" font-size="26" text-anchor="end">2.5</text>
<text transform="translate(102.0 833.0) scale(1 1.035)" font-size="26" text-anchor="end">2.0</text>
<text transform="translate(102.0 915.0) scale(1 1.035)" font-size="26" text-anchor="end">1.5</text>
<text transform="translate(102.0 997.5) scale(1 1.035)" font-size="26" text-anchor="end">1.0</text>
<text transform="translate(102.0 1079.5) scale(1 1.035)" font-size="26" text-anchor="end">0.5</text>
<text transform="translate(102.0 1161.5) scale(1 1.035)" font-size="26" text-anchor="end">0.0</text>
<text transform="translate(102.0 1243.5) scale(1 1.035)" font-size="26" text-anchor="end">-0.5</text>
<text transform="translate(102.0 1326.0) scale(1 1.035)" font-size="26" text-anchor="end">-1.0</text>
<text transform="translate(189.0 1351.5) scale(1 1.035)" font-size="26" text-anchor="middle">7710</text>
<text transform="translate(331.9 1351.5) scale(1 1.035)" font-size="26" text-anchor="middle">7720</text>
<text transform="translate(474.7 1351.5) scale(1 1.035)" font-size="26" text-anchor="middle">7730</text>
<text transform="translate(617.6 1351.5) scale(1 1.035)" font-size="26" text-anchor="middle">7740</text>
<text transform="translate(760.5 1351.5) scale(1 1.035)" font-size="26" text-anchor="middle">7750</text>
<text transform="translate(903.4 1351.5) scale(1 1.035)" font-size="26" text-anchor="middle">7760</text>
<text transform="translate(546.5 1390.7) scale(1 1.035)" font-size="26" text-anchor="middle">Photon energy / eV</text>
<text transform="translate(19.2 1029.7) rotate(-90) scale(1 1.035)" font-size="26" text-anchor="middle">Absorbance</text>
<text transform="translate(168.0 832.8) scale(1 1.0)" font-size="52">(b)</text>
<text transform="translate(292.6 824.7) scale(1 1.035)" font-size="35">LiCoO</text>
<text transform="translate(391.6 824.7) scale(1 1.035)" font-size="19">2</text>
<text transform="translate(507.5 824.6) scale(1 1.035)" font-size="35">Li</text>
<text transform="translate(535.3 824.6) scale(1 1.035)" font-size="19">1-x</text>
<text transform="translate(562.0 824.6) scale(1 1.035)" font-size="35">CoO</text>
<text transform="translate(634.2 824.6) scale(1 1.035)" font-size="19">2</text>
</g>
</svg>
</body></html>
